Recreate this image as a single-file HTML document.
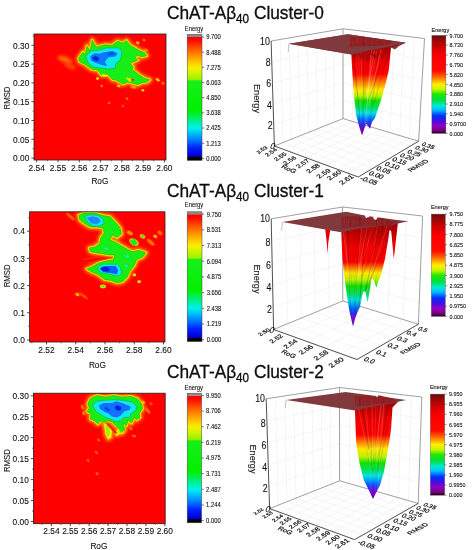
<!DOCTYPE html>
<html lang="en"><head><meta charset="utf-8"><title>ChAT-Aβ40 free energy landscapes</title>
<style>html,body{margin:0;padding:0;background:#fff}body{width:473px;height:550px;overflow:hidden}svg{display:block}text{font-family:"Liberation Sans", sans-serif;fill:#111;stroke:#111;stroke-width:0.1px}</style>
</head><body>
<svg width="473" height="550" viewBox="0 0 473 550">
<defs>
<filter id="b1" x="-20%" y="-20%" width="140%" height="140%"><feGaussianBlur stdDeviation="0.7"/></filter>
<filter id="b2" x="-30%" y="-30%" width="160%" height="160%"><feGaussianBlur stdDeviation="1.4"/></filter>
<filter id="b3" x="-10%" y="-10%" width="120%" height="120%"><feGaussianBlur stdDeviation="0.4"/></filter>
<linearGradient id="cb1" x1="0" y1="0" x2="0" y2="1"><stop offset="0" stop-color="#ff0000"/><stop offset="0.03" stop-color="#ff0800"/><stop offset="0.075" stop-color="#ff4000"/><stop offset="0.15" stop-color="#ff9000"/><stop offset="0.205" stop-color="#ffc800"/><stop offset="0.25" stop-color="#f8f000"/><stop offset="0.3" stop-color="#c4f400"/><stop offset="0.345" stop-color="#98f000"/><stop offset="0.356" stop-color="#18f018"/><stop offset="0.6" stop-color="#00f000"/><stop offset="0.67" stop-color="#00f080"/><stop offset="0.74" stop-color="#00f0f0"/><stop offset="0.82" stop-color="#0090ff"/><stop offset="0.9" stop-color="#0020ff"/><stop offset="0.965" stop-color="#0000d0"/><stop offset="0.978" stop-color="#000000"/><stop offset="1" stop-color="#000000"/></linearGradient>
<linearGradient id="cb2" x1="0" y1="0" x2="0" y2="1"><stop offset="0" stop-color="#6e0a0a"/><stop offset="0.06" stop-color="#a00808"/><stop offset="0.14" stop-color="#dc0000"/><stop offset="0.22" stop-color="#ff0000"/><stop offset="0.36" stop-color="#ff0a00"/><stop offset="0.42" stop-color="#ff6000"/><stop offset="0.5" stop-color="#fff000"/><stop offset="0.55" stop-color="#c8f400"/><stop offset="0.6" stop-color="#20e800"/><stop offset="0.66" stop-color="#00e040"/><stop offset="0.72" stop-color="#00e8d8"/><stop offset="0.76" stop-color="#00c0ff"/><stop offset="0.82" stop-color="#0030ff"/><stop offset="0.87" stop-color="#4010e0"/><stop offset="0.92" stop-color="#9000c8"/><stop offset="0.97" stop-color="#780078"/><stop offset="1" stop-color="#200020"/></linearGradient>
</defs>
<rect width="473" height="550" fill="#ffffff"/>
<text x="167.0" y="19.4" font-size="18.6" textLength="157.0" lengthAdjust="spacingAndGlyphs" fill="#000" style="stroke:#000;stroke-width:0.3px">ChAT-Aβ<tspan font-size="12.6" dy="3.6">40</tspan><tspan dy="-3.6"> Cluster-0</tspan></text>
<rect x="34.0" y="34.0" width="132.0" height="126.0" fill="#ff0000"/>
<clipPath id="c1"><rect x="34.0" y="34.0" width="132.0" height="126.0"/></clipPath>
<g clip-path="url(#c1)">
<polygon points="78.5,58.5 82.7,52.2 85.2,54.3 86.9,45.9 90.1,51.1 92.2,40.1 96.4,46.9 104.9,44.8 112.0,45.2 117.6,41.1 122.7,43.0 126.5,40.4 130.3,45.5 135.4,48.0 138.5,50.0 144.3,52.5 146.8,55.7 141.7,56.9 137.3,55.0 135.4,57.6 137.9,60.1 134.7,61.4 130.3,63.3 133.5,67.1 132.2,69.6 136.0,72.2 139.8,75.3 144.3,77.9 150.0,79.8 146.8,82.3 141.7,82.9 137.9,84.8 132.8,83.6 127.8,82.3 122.7,84.2 118.9,81.7 115.1,79.8 112.3,79.7 108.0,74.4 101.7,75.5 97.5,70.2 91.1,69.1 85.9,64.9 79.5,61.7" fill="#ff7800" stroke="#ff7800" stroke-width="6" stroke-linejoin="round" filter="url(#b2)"/>
<polygon points="78.5,58.5 82.7,52.2 85.2,54.3 86.9,45.9 90.1,51.1 92.2,40.1 96.4,46.9 104.9,44.8 112.0,45.2 117.6,41.1 122.7,43.0 126.5,40.4 130.3,45.5 135.4,48.0 138.5,50.0 144.3,52.5 146.8,55.7 141.7,56.9 137.3,55.0 135.4,57.6 137.9,60.1 134.7,61.4 130.3,63.3 133.5,67.1 132.2,69.6 136.0,72.2 139.8,75.3 144.3,77.9 150.0,79.8 146.8,82.3 141.7,82.9 137.9,84.8 132.8,83.6 127.8,82.3 122.7,84.2 118.9,81.7 115.1,79.8 112.3,79.7 108.0,74.4 101.7,75.5 97.5,70.2 91.1,69.1 85.9,64.9 79.5,61.7" fill="#ffe000" stroke="#ffe000" stroke-width="2.6" stroke-linejoin="round" filter="url(#b1)"/>
<ellipse cx="137.7" cy="42.7" rx="1.9" ry="1.3" fill="#ffd000" transform="rotate(30 137.7 42.7)" filter="url(#b1)"/>
<ellipse cx="144.0" cy="40.1" rx="1.5" ry="1.1" fill="#ff9000" transform="rotate(30 144.0 40.1)" filter="url(#b1)"/>
<ellipse cx="157.7" cy="79.7" rx="2.5" ry="1.3" fill="#ffe000" transform="rotate(35 157.7 79.7)" filter="url(#b1)"/>
<ellipse cx="163.0" cy="83.3" rx="1.7" ry="1.1" fill="#ff9000" transform="rotate(35 163.0 83.3)" filter="url(#b1)"/>
<ellipse cx="142.9" cy="90.3" rx="1.5" ry="1.3" fill="#ffd000" transform="rotate(0 142.9 90.3)" filter="url(#b1)"/>
<ellipse cx="97.5" cy="78.6" rx="1.5" ry="1.3" fill="#ffe000" transform="rotate(0 97.5 78.6)" filter="url(#b1)"/>
<ellipse cx="101.7" cy="86.0" rx="1.5" ry="1.1" fill="#ff9000" transform="rotate(30 101.7 86.0)" filter="url(#b1)"/>
<ellipse cx="118.6" cy="86.0" rx="1.9" ry="1.3" fill="#ffd000" transform="rotate(20 118.6 86.0)" filter="url(#b1)"/>
<ellipse cx="109.1" cy="102.9" rx="1.3" ry="1.1" fill="#ff8000" transform="rotate(30 109.1 102.9)" filter="url(#b1)"/>
<ellipse cx="127.1" cy="98.7" rx="1.3" ry="1.1" fill="#ff9000" transform="rotate(30 127.1 98.7)" filter="url(#b1)"/>
<ellipse cx="122.9" cy="106.1" rx="1.3" ry="1.1" fill="#ff7000" transform="rotate(30 122.9 106.1)" filter="url(#b1)"/>
<ellipse cx="133.4" cy="87.1" rx="3.0" ry="1.7" fill="#ff9000" transform="rotate(10 133.4 87.1)" filter="url(#b1)"/>
<ellipse cx="146.1" cy="50.1" rx="2.1" ry="1.3" fill="#ff9000" transform="rotate(20 146.1 50.1)" filter="url(#b1)"/>
<ellipse cx="65.0" cy="59.5" rx="8.0" ry="3.0" fill="#ff6a00" transform="rotate(20 65.0 59.5)" filter="url(#b2)"/>
<ellipse cx="70.0" cy="66.0" rx="6.0" ry="2.5" fill="#ff5000" transform="rotate(25 70.0 66.0)" filter="url(#b2)"/>
<polygon points="78.5,58.5 82.7,52.2 85.2,54.3 86.9,45.9 90.1,51.1 92.2,40.1 96.4,46.9 104.9,44.8 112.0,45.2 117.6,41.1 122.7,43.0 126.5,40.4 130.3,45.5 135.4,48.0 138.5,50.0 144.3,52.5 146.8,55.7 141.7,56.9 137.3,55.0 135.4,57.6 137.9,60.1 134.7,61.4 130.3,63.3 133.5,67.1 132.2,69.6 136.0,72.2 139.8,75.3 144.3,77.9 150.0,79.8 146.8,82.3 141.7,82.9 137.9,84.8 132.8,83.6 127.8,82.3 122.7,84.2 118.9,81.7 115.1,79.8 112.3,79.7 108.0,74.4 101.7,75.5 97.5,70.2 91.1,69.1 85.9,64.9 79.5,61.7" fill="#18ee18" stroke="#0a7a0a" stroke-width="0.35" stroke-linejoin="round" filter="url(#b3)"/>
<polygon points="101.7,74.0 107.6,74.8 106.4,76.9 102.1,76.1" fill="#e8f000" filter="url(#b3)"/>
<polygon points="125.4,77.6 130.3,78.2 133.4,80.7 129.2,81.8" fill="#f0e000" filter="url(#b3)"/>
<ellipse cx="132.6" cy="79.9" rx="1.4" ry="1.1" fill="#ff2000" transform="rotate(0 132.6 79.9)" filter="url(#b3)"/>
<polygon points="85.9,56.4 91.1,51.1 98.5,50.1 107.0,48.0 118.6,48.0 121.8,51.1 120.7,59.6 115.5,63.8 115.5,68.1 108.1,69.1 101.7,68.1 93.3,67.0 88.0,62.8" fill="#10e8e8" stroke="#0a7a6a" stroke-width="0.35" stroke-linejoin="round" filter="url(#b3)"/>
<polygon points="90.1,56.4 94.3,53.3 99.6,53.7 103.8,52.2 112.3,51.1 117.6,53.3 115.5,56.4 108.1,57.5 104.9,61.7 107.0,65.9 101.7,64.9 95.4,62.8 91.1,60.7" fill="#1078ff" filter="url(#b1)"/>
<ellipse cx="95.8" cy="58.5" rx="3.2" ry="2.2" fill="#0020d0" transform="rotate(20 95.8 58.5)" filter="url(#b1)"/>
<ellipse cx="111.2" cy="53.7" rx="3.5" ry="1.6" fill="#0050f0" transform="rotate(-10 111.2 53.7)" filter="url(#b1)"/>
</g>
<rect x="34.0" y="34.0" width="132.0" height="126.0" fill="none" stroke="#222" stroke-width="0.8"/>
<line x1="31.4" y1="45.30" x2="34.0" y2="45.30" stroke="#222" stroke-width="0.8"/>
<text x="29.40" y="48.54" font-size="9.00" text-anchor="end" textLength="16.29" lengthAdjust="spacingAndGlyphs">0.30</text>
<line x1="31.4" y1="64.10" x2="34.0" y2="64.10" stroke="#222" stroke-width="0.8"/>
<text x="29.40" y="67.34" font-size="9.00" text-anchor="end" textLength="16.29" lengthAdjust="spacingAndGlyphs">0.25</text>
<line x1="31.4" y1="82.90" x2="34.0" y2="82.90" stroke="#222" stroke-width="0.8"/>
<text x="29.40" y="86.14" font-size="9.00" text-anchor="end" textLength="16.29" lengthAdjust="spacingAndGlyphs">0.20</text>
<line x1="31.4" y1="101.70" x2="34.0" y2="101.70" stroke="#222" stroke-width="0.8"/>
<text x="29.40" y="104.94" font-size="9.00" text-anchor="end" textLength="16.29" lengthAdjust="spacingAndGlyphs">0.15</text>
<line x1="31.4" y1="120.50" x2="34.0" y2="120.50" stroke="#222" stroke-width="0.8"/>
<text x="29.40" y="123.74" font-size="9.00" text-anchor="end" textLength="16.29" lengthAdjust="spacingAndGlyphs">0.10</text>
<line x1="31.4" y1="139.30" x2="34.0" y2="139.30" stroke="#222" stroke-width="0.8"/>
<text x="29.40" y="142.54" font-size="9.00" text-anchor="end" textLength="16.29" lengthAdjust="spacingAndGlyphs">0.05</text>
<line x1="31.4" y1="158.10" x2="34.0" y2="158.10" stroke="#222" stroke-width="0.8"/>
<text x="29.40" y="161.34" font-size="9.00" text-anchor="end" textLength="16.29" lengthAdjust="spacingAndGlyphs">0.00</text>
<line x1="32.6" y1="35.90" x2="34.0" y2="35.90" stroke="#222" stroke-width="0.6"/>
<line x1="32.6" y1="54.70" x2="34.0" y2="54.70" stroke="#222" stroke-width="0.6"/>
<line x1="32.6" y1="73.50" x2="34.0" y2="73.50" stroke="#222" stroke-width="0.6"/>
<line x1="32.6" y1="92.30" x2="34.0" y2="92.30" stroke="#222" stroke-width="0.6"/>
<line x1="32.6" y1="111.10" x2="34.0" y2="111.10" stroke="#222" stroke-width="0.6"/>
<line x1="32.6" y1="129.90" x2="34.0" y2="129.90" stroke="#222" stroke-width="0.6"/>
<line x1="32.6" y1="148.70" x2="34.0" y2="148.70" stroke="#222" stroke-width="0.6"/>
<line x1="36.70" y1="160.0" x2="36.70" y2="162.4" stroke="#222" stroke-width="0.8"/>
<text x="36.70" y="171.24" font-size="9.00" text-anchor="middle" textLength="16.29" lengthAdjust="spacingAndGlyphs">2.54</text>
<line x1="57.98" y1="160.0" x2="57.98" y2="162.4" stroke="#222" stroke-width="0.8"/>
<text x="57.98" y="171.24" font-size="9.00" text-anchor="middle" textLength="16.29" lengthAdjust="spacingAndGlyphs">2.55</text>
<line x1="79.26" y1="160.0" x2="79.26" y2="162.4" stroke="#222" stroke-width="0.8"/>
<text x="79.26" y="171.24" font-size="9.00" text-anchor="middle" textLength="16.29" lengthAdjust="spacingAndGlyphs">2.56</text>
<line x1="100.54" y1="160.0" x2="100.54" y2="162.4" stroke="#222" stroke-width="0.8"/>
<text x="100.54" y="171.24" font-size="9.00" text-anchor="middle" textLength="16.29" lengthAdjust="spacingAndGlyphs">2.57</text>
<line x1="121.82" y1="160.0" x2="121.82" y2="162.4" stroke="#222" stroke-width="0.8"/>
<text x="121.82" y="171.24" font-size="9.00" text-anchor="middle" textLength="16.29" lengthAdjust="spacingAndGlyphs">2.58</text>
<line x1="143.10" y1="160.0" x2="143.10" y2="162.4" stroke="#222" stroke-width="0.8"/>
<text x="143.10" y="171.24" font-size="9.00" text-anchor="middle" textLength="16.29" lengthAdjust="spacingAndGlyphs">2.59</text>
<line x1="164.38" y1="160.0" x2="164.38" y2="162.4" stroke="#222" stroke-width="0.8"/>
<text x="164.38" y="171.24" font-size="9.00" text-anchor="middle" textLength="16.29" lengthAdjust="spacingAndGlyphs">2.60</text>
<line x1="47.34" y1="160.0" x2="47.34" y2="161.3" stroke="#222" stroke-width="0.6"/>
<line x1="68.62" y1="160.0" x2="68.62" y2="161.3" stroke="#222" stroke-width="0.6"/>
<line x1="89.90" y1="160.0" x2="89.90" y2="161.3" stroke="#222" stroke-width="0.6"/>
<line x1="111.18" y1="160.0" x2="111.18" y2="161.3" stroke="#222" stroke-width="0.6"/>
<line x1="132.46" y1="160.0" x2="132.46" y2="161.3" stroke="#222" stroke-width="0.6"/>
<line x1="153.74" y1="160.0" x2="153.74" y2="161.3" stroke="#222" stroke-width="0.6"/>
<text x="0" y="0" font-size="9.00" text-anchor="middle" transform="translate(10.30 98.00) rotate(-90.0)" textLength="22.92" lengthAdjust="spacingAndGlyphs">RMSD</text>
<text x="99.90" y="184.30" font-size="9.00" text-anchor="middle" textLength="17.02" lengthAdjust="spacingAndGlyphs">RoG</text>
<rect x="187.2" y="37.00" width="14.8" height="123.40" fill="url(#cb1)"/>
<rect x="187.2" y="34.30" width="14.8" height="2.70" fill="#8a8a8a"/>
<rect x="187.2" y="34.30" width="14.8" height="126.10" fill="none" stroke="#444" stroke-width="0.5"/>
<line x1="202.0" y1="37.00" x2="204.2" y2="37.00" stroke="#222" stroke-width="0.6"/>
<text x="206.20" y="39.35" font-size="6.50" text-anchor="start" textLength="14.64" lengthAdjust="spacingAndGlyphs">9.700</text>
<line x1="202.0" y1="52.17" x2="204.2" y2="52.17" stroke="#222" stroke-width="0.6"/>
<text x="206.20" y="54.52" font-size="6.50" text-anchor="start" textLength="14.64" lengthAdjust="spacingAndGlyphs">8.488</text>
<line x1="202.0" y1="67.34" x2="204.2" y2="67.34" stroke="#222" stroke-width="0.6"/>
<text x="206.20" y="69.69" font-size="6.50" text-anchor="start" textLength="14.64" lengthAdjust="spacingAndGlyphs">7.275</text>
<line x1="202.0" y1="82.51" x2="204.2" y2="82.51" stroke="#222" stroke-width="0.6"/>
<text x="206.20" y="84.86" font-size="6.50" text-anchor="start" textLength="14.64" lengthAdjust="spacingAndGlyphs">6.063</text>
<line x1="202.0" y1="97.68" x2="204.2" y2="97.68" stroke="#222" stroke-width="0.6"/>
<text x="206.20" y="100.03" font-size="6.50" text-anchor="start" textLength="14.64" lengthAdjust="spacingAndGlyphs">4.850</text>
<line x1="202.0" y1="112.85" x2="204.2" y2="112.85" stroke="#222" stroke-width="0.6"/>
<text x="206.20" y="115.20" font-size="6.50" text-anchor="start" textLength="14.64" lengthAdjust="spacingAndGlyphs">3.638</text>
<line x1="202.0" y1="128.02" x2="204.2" y2="128.02" stroke="#222" stroke-width="0.6"/>
<text x="206.20" y="130.37" font-size="6.50" text-anchor="start" textLength="14.64" lengthAdjust="spacingAndGlyphs">2.425</text>
<line x1="202.0" y1="143.19" x2="204.2" y2="143.19" stroke="#222" stroke-width="0.6"/>
<text x="206.20" y="145.54" font-size="6.50" text-anchor="start" textLength="14.64" lengthAdjust="spacingAndGlyphs">1.213</text>
<line x1="202.0" y1="158.36" x2="204.2" y2="158.36" stroke="#222" stroke-width="0.6"/>
<text x="206.20" y="160.71" font-size="6.50" text-anchor="start" textLength="14.64" lengthAdjust="spacingAndGlyphs">0.000</text>
<text x="194.00" y="30.80" font-size="6.40" text-anchor="middle" textLength="18.45" lengthAdjust="spacingAndGlyphs">Energy</text>
<polygon points="271.1,41.0 343.0,28.8 343.0,118.6 274.4,146.0" fill="#fff" stroke="none"/>
<polygon points="343.0,28.8 424.5,38.5 418.6,141.2 343.0,118.6" fill="#fff" stroke="none"/>
<polyline points="273.7,125.0 343.0,100.6 419.8,120.7" fill="none" stroke="#ebebeb" stroke-width="0.5"/>
<polyline points="273.1,104.0 343.0,82.7 421.0,100.1" fill="none" stroke="#ebebeb" stroke-width="0.5"/>
<polyline points="272.4,83.0 343.0,64.7 422.1,79.6" fill="none" stroke="#ebebeb" stroke-width="0.5"/>
<polyline points="271.8,62.0 343.0,46.8 423.3,59.0" fill="none" stroke="#ebebeb" stroke-width="0.5"/>
<polyline points="280.1,39.5 283.0,142.6 365.8,172.5" fill="none" stroke="#ebebeb" stroke-width="0.5"/>
<polyline points="289.1,38.0 291.5,139.2 373.4,168.1" fill="none" stroke="#ebebeb" stroke-width="0.5"/>
<polyline points="298.1,36.4 300.1,135.7 380.9,163.6" fill="none" stroke="#ebebeb" stroke-width="0.5"/>
<polyline points="307.1,34.9 308.7,132.3 388.5,159.1" fill="none" stroke="#ebebeb" stroke-width="0.5"/>
<polyline points="316.0,33.4 317.3,128.9 396.0,154.6" fill="none" stroke="#ebebeb" stroke-width="0.5"/>
<polyline points="325.0,31.9 325.9,125.4 403.5,150.1" fill="none" stroke="#ebebeb" stroke-width="0.5"/>
<polyline points="334.0,30.3 334.4,122.0 411.1,145.7" fill="none" stroke="#ebebeb" stroke-width="0.5"/>
<polyline points="353.2,30.0 352.4,121.4 284.9,149.9" fill="none" stroke="#ebebeb" stroke-width="0.5"/>
<polyline points="363.4,31.2 361.9,124.2 295.4,153.8" fill="none" stroke="#ebebeb" stroke-width="0.5"/>
<polyline points="373.6,32.4 371.4,127.1 305.9,157.6" fill="none" stroke="#ebebeb" stroke-width="0.5"/>
<polyline points="383.8,33.6 380.8,129.9 316.4,161.5" fill="none" stroke="#ebebeb" stroke-width="0.5"/>
<polyline points="393.9,34.9 390.2,132.7 326.8,165.4" fill="none" stroke="#ebebeb" stroke-width="0.5"/>
<polyline points="404.1,36.1 399.7,135.5 337.3,169.2" fill="none" stroke="#ebebeb" stroke-width="0.5"/>
<polyline points="414.3,37.3 409.2,138.4 347.8,173.1" fill="none" stroke="#ebebeb" stroke-width="0.5"/>
<polyline points="271.1,41.0 343.0,28.8 424.5,38.5" fill="none" stroke="#777" stroke-width="0.7"/>
<polyline points="274.4,146.0 343.0,118.6 418.6,141.2" fill="none" stroke="#777" stroke-width="0.7"/>
<line x1="343.0" y1="28.8" x2="343.0" y2="118.6" stroke="#777" stroke-width="0.7"/>
<line x1="424.5" y1="38.5" x2="418.6" y2="141.2" stroke="#777" stroke-width="0.7"/>
<line x1="271.1" y1="41.0" x2="274.4" y2="146.0" stroke="#222" stroke-width="0.8"/>
<polyline points="274.4,146.0 358.3,177.0 418.6,141.2" fill="none" stroke="#222" stroke-width="0.8"/>
<polygon points="288.8,43.8 351.5,54.4 391.0,47.5 395.0,49.5 399.0,46.0 406.0,42.7 348.0,34.3" fill="#803a3e"/>
<line x1="288.8" y1="43.8" x2="288.2" y2="52" stroke="#999" stroke-width="0.6"/>
<linearGradient id="f1" gradientUnits="userSpaceOnUse" x1="0" y1="49.0" x2="0" y2="136.0"><stop offset="0.000" stop-color="#b00000"/><stop offset="0.161" stop-color="#f00000"/><stop offset="0.287" stop-color="#ff0000"/><stop offset="0.368" stop-color="#ff6a00"/><stop offset="0.471" stop-color="#ffe800"/><stop offset="0.540" stop-color="#b8f000"/><stop offset="0.598" stop-color="#10e000"/><stop offset="0.678" stop-color="#00e060"/><stop offset="0.736" stop-color="#00e0e0"/><stop offset="0.805" stop-color="#0070ff"/><stop offset="0.862" stop-color="#3030f0"/><stop offset="0.920" stop-color="#8000d0"/><stop offset="1.000" stop-color="#600090"/></linearGradient>
<clipPath id="f1c"><polygon points="351.3,54.0 352.5,75.0 353.8,95.0 356.2,115.0 359.0,126.0 362.0,135.5 364.5,128.0 366.5,124.0 370.0,128.8 372.0,122.0 375.0,118.0 379.0,106.0 382.5,95.0 386.0,82.0 388.8,70.0 390.0,58.0 391.0,47.5 380.0,45.0 365.0,46.0"/></clipPath>
<polygon points="351.3,54.0 352.5,75.0 353.8,95.0 356.2,115.0 359.0,126.0 362.0,135.5 364.5,128.0 366.5,124.0 370.0,128.8 372.0,122.0 375.0,118.0 379.0,106.0 382.5,95.0 386.0,82.0 388.8,70.0 390.0,58.0 391.0,47.5 380.0,45.0 365.0,46.0" fill="url(#f1)" filter="url(#b3)"/>
<g clip-path="url(#f1c)" filter="url(#b3)">
<line x1="351.8" y1="45.0" x2="359.9" y2="114.9" stroke="#000" stroke-opacity="0.17" stroke-width="0.9"/>
<line x1="353.1" y1="45.0" x2="360.6" y2="128.1" stroke="#000" stroke-opacity="0.11" stroke-width="1.1"/>
<line x1="355.4" y1="45.0" x2="359.6" y2="111.8" stroke="#fff" stroke-opacity="0.10" stroke-width="0.9"/>
<line x1="358.5" y1="45.0" x2="361.0" y2="123.8" stroke="#fff" stroke-opacity="0.09" stroke-width="1.0"/>
<line x1="361.0" y1="45.0" x2="361.8" y2="91.7" stroke="#fff" stroke-opacity="0.16" stroke-width="0.9"/>
<line x1="364.1" y1="45.0" x2="362.7" y2="131.9" stroke="#000" stroke-opacity="0.21" stroke-width="0.8"/>
<line x1="367.4" y1="45.0" x2="364.0" y2="94.7" stroke="#000" stroke-opacity="0.11" stroke-width="1.1"/>
<line x1="369.5" y1="45.0" x2="364.3" y2="103.9" stroke="#000" stroke-opacity="0.14" stroke-width="0.7"/>
<line x1="372.0" y1="45.0" x2="365.0" y2="131.2" stroke="#fff" stroke-opacity="0.24" stroke-width="1.0"/>
<line x1="375.4" y1="45.0" x2="366.3" y2="97.6" stroke="#fff" stroke-opacity="0.24" stroke-width="1.0"/>
<line x1="377.9" y1="45.0" x2="367.2" y2="99.8" stroke="#fff" stroke-opacity="0.18" stroke-width="0.7"/>
<line x1="379.2" y1="45.0" x2="368.3" y2="135.0" stroke="#000" stroke-opacity="0.21" stroke-width="0.7"/>
<line x1="380.7" y1="45.0" x2="366.2" y2="125.0" stroke="#fff" stroke-opacity="0.08" stroke-width="0.9"/>
<line x1="382.0" y1="45.0" x2="368.6" y2="105.2" stroke="#fff" stroke-opacity="0.25" stroke-width="0.8"/>
<line x1="385.4" y1="45.0" x2="367.3" y2="93.7" stroke="#fff" stroke-opacity="0.08" stroke-width="0.6"/>
<line x1="387.5" y1="45.0" x2="369.7" y2="97.3" stroke="#000" stroke-opacity="0.22" stroke-width="0.7"/>
<line x1="390.8" y1="45.0" x2="372.8" y2="107.3" stroke="#000" stroke-opacity="0.16" stroke-width="0.9"/>
</g>
<polygon points="352.0,54.0 391.0,47.5 400.0,45.0 390.0,44.0 352.0,50.0 355.0,58.0 358.0,53.0 361.0,60.0 364.0,52.0 368.0,62.0 371.0,52.0 375.0,60.0 378.0,51.0 382.0,58.0 385.0,50.0 388.0,55.0" fill="#9a1010" filter="url(#b3)"/>
<polygon points="288.8,43.8 351.5,54.4 370.0,50.5 391.0,46.2 406.0,42.7 348.0,34.3" fill="#803a3e"/>
<clipPath id="h1"><polygon points="350.2,36.5 365.4,37.2 385.8,39.9 391.7,41.6 389.2,44.5 379.8,45.7 365.4,46.2 350.2,46.7"/></clipPath>
<polygon points="350.2,36.5 365.4,37.2 385.8,39.9 391.7,41.6 389.2,44.5 379.8,45.7 365.4,46.2 350.2,46.7" fill="#8c2028" filter="url(#b3)"/>
<g clip-path="url(#h1)">
<line x1="350.8" y1="37.0" x2="351.1" y2="46.0" stroke="#b81010" stroke-width="0.9" stroke-opacity="0.8"/>
<line x1="352.1" y1="40.2" x2="352.4" y2="44.7" stroke="#803a3e" stroke-width="0.7" stroke-opacity="0.8"/>
<line x1="354.2" y1="38.0" x2="354.5" y2="43.2" stroke="#b81010" stroke-width="0.9" stroke-opacity="0.8"/>
<line x1="356.4" y1="36.6" x2="356.7" y2="43.4" stroke="#c01818" stroke-width="0.8" stroke-opacity="0.8"/>
<line x1="357.4" y1="38.2" x2="357.7" y2="43.4" stroke="#803a3e" stroke-width="1.0" stroke-opacity="0.8"/>
<line x1="359.1" y1="40.3" x2="359.4" y2="43.5" stroke="#c01818" stroke-width="0.5" stroke-opacity="0.8"/>
<line x1="360.9" y1="37.8" x2="361.2" y2="43.6" stroke="#c01818" stroke-width="0.8" stroke-opacity="0.8"/>
<line x1="362.2" y1="37.4" x2="362.5" y2="45.1" stroke="#c01818" stroke-width="0.9" stroke-opacity="0.8"/>
<line x1="363.4" y1="37.0" x2="363.7" y2="45.1" stroke="#6a1a20" stroke-width="1.0" stroke-opacity="0.8"/>
<line x1="365.2" y1="38.1" x2="365.5" y2="42.5" stroke="#8a3a40" stroke-width="0.9" stroke-opacity="0.8"/>
<line x1="366.4" y1="40.0" x2="366.7" y2="47.0" stroke="#8a3a40" stroke-width="0.5" stroke-opacity="0.8"/>
<line x1="368.1" y1="39.9" x2="368.4" y2="44.4" stroke="#c01818" stroke-width="0.9" stroke-opacity="0.8"/>
<line x1="370.2" y1="38.2" x2="370.5" y2="45.3" stroke="#7a2a30" stroke-width="0.9" stroke-opacity="0.8"/>
<line x1="371.7" y1="40.5" x2="372.0" y2="43.8" stroke="#8a3a40" stroke-width="1.0" stroke-opacity="0.8"/>
<line x1="373.0" y1="37.4" x2="373.3" y2="42.2" stroke="#b81010" stroke-width="0.9" stroke-opacity="0.8"/>
<line x1="374.8" y1="38.3" x2="375.1" y2="42.1" stroke="#b81010" stroke-width="0.6" stroke-opacity="0.8"/>
<line x1="376.7" y1="38.9" x2="377.0" y2="45.8" stroke="#c01818" stroke-width="0.6" stroke-opacity="0.8"/>
<line x1="378.3" y1="41.2" x2="378.6" y2="45.2" stroke="#7a2a30" stroke-width="0.5" stroke-opacity="0.8"/>
<line x1="380.5" y1="41.5" x2="380.8" y2="47.3" stroke="#b81010" stroke-width="1.0" stroke-opacity="0.8"/>
<line x1="382.6" y1="36.7" x2="382.9" y2="42.5" stroke="#8a3a40" stroke-width="0.9" stroke-opacity="0.8"/>
<line x1="384.5" y1="39.3" x2="384.8" y2="47.8" stroke="#c01818" stroke-width="0.9" stroke-opacity="0.8"/>
<line x1="386.5" y1="37.1" x2="386.8" y2="41.7" stroke="#c01818" stroke-width="0.5" stroke-opacity="0.8"/>
<line x1="388.4" y1="41.2" x2="388.7" y2="49.8" stroke="#b81010" stroke-width="0.9" stroke-opacity="0.8"/>
<line x1="390.1" y1="39.0" x2="390.4" y2="42.8" stroke="#7a2a30" stroke-width="0.8" stroke-opacity="0.8"/>
<line x1="391.3" y1="39.2" x2="391.6" y2="44.8" stroke="#7a2a30" stroke-width="1.0" stroke-opacity="0.8"/>
</g>
<text x="0" y="0" font-size="8.60" text-anchor="end" transform="translate(274.19 149.00) skewX(-18.0)" >0</text>
<text x="272.57" y="129.30" font-size="10.00" text-anchor="end" textLength="4.9" lengthAdjust="spacingAndGlyphs">2</text>
<text x="271.91" y="108.50" font-size="10.00" text-anchor="end" textLength="4.9" lengthAdjust="spacingAndGlyphs">4</text>
<text x="271.25" y="87.30" font-size="10.00" text-anchor="end" textLength="4.9" lengthAdjust="spacingAndGlyphs">6</text>
<text x="270.58" y="66.00" font-size="10.00" text-anchor="end" textLength="4.9" lengthAdjust="spacingAndGlyphs">8</text>
<text x="269.91" y="44.70" font-size="10.00" text-anchor="end" textLength="9.8" lengthAdjust="spacingAndGlyphs">10</text>
<text x="0" y="0" font-size="9.20" text-anchor="middle" transform="translate(253.60 98.50) rotate(90.0)" >Energy</text>
<text transform="matrix(0.842 -0.540 0.701 0.564 263.21 150.94)" font-size="5.60" text-anchor="middle" fill="#111" style="stroke:#111;stroke-width:0.24px">2.53</text>
<text transform="matrix(0.842 -0.540 0.701 0.564 272.47 153.46)" font-size="6.20" text-anchor="middle" fill="#111" style="stroke:#111;stroke-width:0.24px">2.54</text>
<text transform="matrix(0.842 -0.540 0.701 0.564 281.84 157.92)" font-size="6.50" text-anchor="middle" fill="#111" style="stroke:#111;stroke-width:0.24px">2.55</text>
<text transform="matrix(0.842 -0.540 0.701 0.564 291.42 161.68)" font-size="6.80" text-anchor="middle" fill="#111" style="stroke:#111;stroke-width:0.24px">2.56</text>
<text transform="matrix(0.842 -0.540 0.701 0.564 304.37 164.92)" font-size="7.00" text-anchor="middle" fill="#111" style="stroke:#111;stroke-width:0.24px">2.57</text>
<text transform="matrix(0.842 -0.540 0.701 0.564 314.82 169.76)" font-size="7.20" text-anchor="middle" fill="#111" style="stroke:#111;stroke-width:0.24px">2.58</text>
<text transform="matrix(0.842 -0.540 0.701 0.564 325.34 174.88)" font-size="7.30" text-anchor="middle" fill="#111" style="stroke:#111;stroke-width:0.24px">2.59</text>
<text transform="matrix(0.842 -0.540 0.701 0.564 335.87 176.70)" font-size="7.40" text-anchor="middle" fill="#111" style="stroke:#111;stroke-width:0.24px">2.60</text>
<text transform="matrix(0.842 -0.540 0.701 0.564 348.09 181.12)" font-size="7.50" text-anchor="middle" fill="#111" style="stroke:#111;stroke-width:0.24px">2.61</text>
<text transform="matrix(0.950 0.314 -0.564 0.701 367.46 182.42)" font-size="7.60" text-anchor="middle" fill="#111" style="stroke:#111;stroke-width:0.24px">-0.05</text>
<text transform="matrix(0.950 0.314 -0.564 0.701 374.88 176.79)" font-size="7.50" text-anchor="middle" fill="#111" style="stroke:#111;stroke-width:0.24px">0.00</text>
<text transform="matrix(0.950 0.314 -0.564 0.701 382.30 171.87)" font-size="7.40" text-anchor="middle" fill="#111" style="stroke:#111;stroke-width:0.24px">0.05</text>
<text transform="matrix(0.950 0.314 -0.564 0.701 390.82 167.44)" font-size="7.30" text-anchor="middle" fill="#111" style="stroke:#111;stroke-width:0.24px">0.10</text>
<text transform="matrix(0.950 0.314 -0.564 0.701 398.24 162.82)" font-size="7.20" text-anchor="middle" fill="#111" style="stroke:#111;stroke-width:0.24px">0.15</text>
<text transform="matrix(0.950 0.314 -0.564 0.701 405.68 158.67)" font-size="7.00" text-anchor="middle" fill="#111" style="stroke:#111;stroke-width:0.24px">0.20</text>
<text transform="matrix(0.950 0.314 -0.564 0.701 413.12 154.72)" font-size="6.80" text-anchor="middle" fill="#111" style="stroke:#111;stroke-width:0.24px">0.25</text>
<text transform="matrix(0.950 0.314 -0.564 0.701 420.56 150.87)" font-size="6.60" text-anchor="middle" fill="#111" style="stroke:#111;stroke-width:0.24px">0.30</text>
<text transform="matrix(0.950 0.314 -0.564 0.701 426.90 147.32)" font-size="6.40" text-anchor="middle" fill="#111" style="stroke:#111;stroke-width:0.24px">0.35</text>
<text transform="matrix(0.912 0.411 -0.600 0.671 287.55 170.54)" font-size="7.20" text-anchor="middle" fill="#111" style="stroke:#111;stroke-width:0.24px">RoG</text>
<text transform="matrix(0.869 -0.495 0.780 0.450 420.05 166.68)" font-size="7.30" text-anchor="middle" fill="#111" style="stroke:#111;stroke-width:0.24px">RMSD</text>
<rect x="431.9" y="35.40" width="14.0" height="98.00" fill="url(#cb2)" stroke="#555" stroke-width="0.4"/>
<line x1="445.9" y1="35.40" x2="447.7" y2="35.40" stroke="#222" stroke-width="0.5"/>
<text x="449.50" y="37.50" font-size="6.00" text-anchor="start" textLength="13.51" lengthAdjust="spacingAndGlyphs">9.700</text>
<line x1="445.9" y1="45.20" x2="447.7" y2="45.20" stroke="#222" stroke-width="0.5"/>
<text x="449.50" y="47.30" font-size="6.00" text-anchor="start" textLength="13.51" lengthAdjust="spacingAndGlyphs">8.730</text>
<line x1="445.9" y1="55.00" x2="447.7" y2="55.00" stroke="#222" stroke-width="0.5"/>
<text x="449.50" y="57.10" font-size="6.00" text-anchor="start" textLength="13.51" lengthAdjust="spacingAndGlyphs">7.760</text>
<line x1="445.9" y1="64.80" x2="447.7" y2="64.80" stroke="#222" stroke-width="0.5"/>
<text x="449.50" y="66.90" font-size="6.00" text-anchor="start" textLength="13.51" lengthAdjust="spacingAndGlyphs">6.790</text>
<line x1="445.9" y1="74.60" x2="447.7" y2="74.60" stroke="#222" stroke-width="0.5"/>
<text x="449.50" y="76.70" font-size="6.00" text-anchor="start" textLength="13.51" lengthAdjust="spacingAndGlyphs">5.820</text>
<line x1="445.9" y1="84.40" x2="447.7" y2="84.40" stroke="#222" stroke-width="0.5"/>
<text x="449.50" y="86.50" font-size="6.00" text-anchor="start" textLength="13.51" lengthAdjust="spacingAndGlyphs">4.850</text>
<line x1="445.9" y1="94.20" x2="447.7" y2="94.20" stroke="#222" stroke-width="0.5"/>
<text x="449.50" y="96.30" font-size="6.00" text-anchor="start" textLength="13.51" lengthAdjust="spacingAndGlyphs">3.880</text>
<line x1="445.9" y1="104.00" x2="447.7" y2="104.00" stroke="#222" stroke-width="0.5"/>
<text x="449.50" y="106.10" font-size="6.00" text-anchor="start" textLength="13.51" lengthAdjust="spacingAndGlyphs">2.910</text>
<line x1="445.9" y1="113.80" x2="447.7" y2="113.80" stroke="#222" stroke-width="0.5"/>
<text x="449.50" y="115.90" font-size="6.00" text-anchor="start" textLength="13.51" lengthAdjust="spacingAndGlyphs">1.940</text>
<line x1="445.9" y1="123.60" x2="447.7" y2="123.60" stroke="#222" stroke-width="0.5"/>
<text x="449.50" y="125.70" font-size="6.00" text-anchor="start" textLength="16.51" lengthAdjust="spacingAndGlyphs">0.9700</text>
<line x1="445.9" y1="133.40" x2="447.7" y2="133.40" stroke="#222" stroke-width="0.5"/>
<text x="449.50" y="135.50" font-size="6.00" text-anchor="start" textLength="13.51" lengthAdjust="spacingAndGlyphs">0.000</text>
<text x="431.50" y="31.80" font-size="6.15" text-anchor="start" textLength="17.73" lengthAdjust="spacingAndGlyphs">Energy</text>
<text x="167.0" y="197.3" font-size="18.6" textLength="157.0" lengthAdjust="spacingAndGlyphs" fill="#000" style="stroke:#000;stroke-width:0.3px">ChAT-Aβ<tspan font-size="12.6" dy="3.6">40</tspan><tspan dy="-3.6"> Cluster-1</tspan></text>
<rect x="29.6" y="211.8" width="135.4" height="130.2" fill="#ff0000"/>
<clipPath id="c2"><rect x="29.6" y="211.8" width="135.4" height="130.2"/></clipPath>
<g clip-path="url(#c2)">
<polygon points="78.6,215.5 83.3,213.1 94.9,213.1 103.0,215.5 110.0,216.6 115.8,222.4 120.5,228.3 121.6,234.1 117.0,237.6 112.3,235.2 110.0,239.9 115.8,242.2 121.6,245.7 127.4,249.2 132.1,251.5 139.1,250.3 146.0,252.7 142.6,257.3 136.7,259.7 134.4,265.5 129.8,271.3 127.4,277.1 122.8,281.7 117.0,282.9 111.2,280.6 104.2,279.4 98.4,274.8 92.6,272.4 86.7,269.0 92.6,266.6 98.4,263.1 106.5,260.8 113.5,259.7 114.7,255.0 108.8,255.0 101.9,253.8 94.9,252.7 90.2,251.5 89.1,248.0 94.9,246.9 99.5,243.4 100.7,237.6 104.2,232.9 103.0,228.3 97.2,227.1 90.2,227.1 84.4,223.6 79.8,220.1" fill="#ff7800" stroke="#ff7800" stroke-width="6" stroke-linejoin="round" filter="url(#b2)"/>
<polygon points="78.6,215.5 83.3,213.1 94.9,213.1 103.0,215.5 110.0,216.6 115.8,222.4 120.5,228.3 121.6,234.1 117.0,237.6 112.3,235.2 110.0,239.9 115.8,242.2 121.6,245.7 127.4,249.2 132.1,251.5 139.1,250.3 146.0,252.7 142.6,257.3 136.7,259.7 134.4,265.5 129.8,271.3 127.4,277.1 122.8,281.7 117.0,282.9 111.2,280.6 104.2,279.4 98.4,274.8 92.6,272.4 86.7,269.0 92.6,266.6 98.4,263.1 106.5,260.8 113.5,259.7 114.7,255.0 108.8,255.0 101.9,253.8 94.9,252.7 90.2,251.5 89.1,248.0 94.9,246.9 99.5,243.4 100.7,237.6 104.2,232.9 103.0,228.3 97.2,227.1 90.2,227.1 84.4,223.6 79.8,220.1" fill="#ffe000" stroke="#ffe000" stroke-width="2.6" stroke-linejoin="round" filter="url(#b1)"/>
<ellipse cx="142.6" cy="236.4" rx="2.8" ry="1.9" fill="#ffd000" transform="rotate(30 142.6 236.4)" filter="url(#b1)"/>
<ellipse cx="155.3" cy="236.4" rx="2.1" ry="1.6" fill="#ffc000" transform="rotate(30 155.3 236.4)" filter="url(#b1)"/>
<ellipse cx="134.0" cy="242.2" rx="5.1" ry="3.3" fill="#ffd000" transform="rotate(30 134.0 242.2)" filter="url(#b1)"/>
<ellipse cx="139.1" cy="281.7" rx="1.9" ry="1.6" fill="#ffd000" transform="rotate(0 139.1 281.7)" filter="url(#b1)"/>
<ellipse cx="134.4" cy="274.8" rx="1.9" ry="1.6" fill="#ffd000" transform="rotate(0 134.4 274.8)" filter="url(#b1)"/>
<ellipse cx="77.4" cy="294.5" rx="2.1" ry="1.6" fill="#ffd000" transform="rotate(30 77.4 294.5)" filter="url(#b1)"/>
<ellipse cx="103.0" cy="286.4" rx="3.0" ry="1.9" fill="#ffe000" transform="rotate(0 103.0 286.4)" filter="url(#b1)"/>
<ellipse cx="70.5" cy="216.6" rx="5.8" ry="1.6" fill="#ff6000" transform="rotate(40 70.5 216.6)" filter="url(#b1)"/>
<ellipse cx="83.3" cy="295.7" rx="5.8" ry="1.4" fill="#ff5000" transform="rotate(35 83.3 295.7)" filter="url(#b1)"/>
<ellipse cx="150.7" cy="242.2" rx="4.7" ry="1.9" fill="#ff7000" transform="rotate(40 150.7 242.2)" filter="url(#b1)"/>
<ellipse cx="160.0" cy="232.9" rx="2.8" ry="1.9" fill="#ff7000" transform="rotate(40 160.0 232.9)" filter="url(#b1)"/>
<ellipse cx="129.8" cy="232.9" rx="3.3" ry="1.9" fill="#ff9000" transform="rotate(30 129.8 232.9)" filter="url(#b1)"/>
<polygon points="78.6,215.5 83.3,213.1 94.9,213.1 103.0,215.5 110.0,216.6 115.8,222.4 120.5,228.3 121.6,234.1 117.0,237.6 112.3,235.2 110.0,239.9 115.8,242.2 121.6,245.7 127.4,249.2 132.1,251.5 139.1,250.3 146.0,252.7 142.6,257.3 136.7,259.7 134.4,265.5 129.8,271.3 127.4,277.1 122.8,281.7 117.0,282.9 111.2,280.6 104.2,279.4 98.4,274.8 92.6,272.4 86.7,269.0 92.6,266.6 98.4,263.1 106.5,260.8 113.5,259.7 114.7,255.0 108.8,255.0 101.9,253.8 94.9,252.7 90.2,251.5 89.1,248.0 94.9,246.9 99.5,243.4 100.7,237.6 104.2,232.9 103.0,228.3 97.2,227.1 90.2,227.1 84.4,223.6 79.8,220.1" fill="#18ee18" stroke="#0a7a0a" stroke-width="0.35" stroke-linejoin="round" filter="url(#b3)"/>
<polygon points="82.1,259.0 100.7,256.2 114.0,257.6 101.9,260.3 89.1,264.1" fill="#ff3000" filter="url(#b1)"/>
<polygon points="82.1,259.9 98.4,257.6 107.7,258.3 98.4,259.9 87.9,262.7" fill="#ff0000" filter="url(#b3)"/>
<ellipse cx="142.6" cy="236.4" rx="1.6" ry="1.1" fill="#18ee18" transform="rotate(30 142.6 236.4)" filter="url(#b3)"/>
<polygon points="129.8,239.9 134.4,238.7 137.9,243.4 134.4,245.7 130.9,243.4" fill="#18ee18" filter="url(#b3)"/>
<ellipse cx="103.0" cy="286.4" rx="2.0" ry="1.2" fill="#60f010" transform="rotate(0 103.0 286.4)" filter="url(#b3)"/>
<polygon points="84.4,216.6 90.2,214.8 98.4,215.5 103.0,219.0 104.2,223.6 99.5,225.9 92.6,225.9 87.9,222.4" fill="#10e8e8" stroke="#0a7a6a" stroke-width="0.35" stroke-linejoin="round" filter="url(#b3)"/>
<polygon points="86.7,217.8 92.6,216.2 98.4,217.8 100.7,221.3 97.2,224.1 91.4,223.6" fill="#2088ff" filter="url(#b1)"/>
<polygon points="97.2,267.8 103.0,264.3 110.0,264.3 117.0,264.3 120.5,267.8 121.6,273.6 118.1,275.9 112.3,274.8 106.5,273.6 100.7,272.4" fill="#10e8e8" stroke="#0a7a6a" stroke-width="0.35" stroke-linejoin="round" filter="url(#b3)"/>
<polygon points="99.5,268.3 105.3,265.9 115.8,265.9 118.1,270.1 117.0,274.3 110.0,272.9 103.0,272.0" fill="#1060ff" filter="url(#b1)"/>
<ellipse cx="105.3" cy="269.2" rx="4.2" ry="2.2" fill="#0020d0" transform="rotate(10 105.3 269.2)" filter="url(#b1)"/>
<ellipse cx="106.5" cy="248.7" rx="1.8" ry="1.2" fill="#10e8e8" transform="rotate(20 106.5 248.7)" filter="url(#b3)"/>
<ellipse cx="127.4" cy="256.2" rx="1.8" ry="1.2" fill="#10e8e8" transform="rotate(20 127.4 256.2)" filter="url(#b3)"/>
<ellipse cx="126.3" cy="265.9" rx="1.8" ry="1.2" fill="#10e8e8" transform="rotate(20 126.3 265.9)" filter="url(#b3)"/>
</g>
<rect x="29.6" y="211.8" width="135.4" height="130.2" fill="none" stroke="#222" stroke-width="0.8"/>
<line x1="27.0" y1="231.20" x2="29.6" y2="231.20" stroke="#222" stroke-width="0.8"/>
<text x="25.00" y="234.44" font-size="9.00" text-anchor="end" textLength="11.63" lengthAdjust="spacingAndGlyphs">0.4</text>
<line x1="27.0" y1="258.40" x2="29.6" y2="258.40" stroke="#222" stroke-width="0.8"/>
<text x="25.00" y="261.64" font-size="9.00" text-anchor="end" textLength="11.63" lengthAdjust="spacingAndGlyphs">0.3</text>
<line x1="27.0" y1="285.60" x2="29.6" y2="285.60" stroke="#222" stroke-width="0.8"/>
<text x="25.00" y="288.84" font-size="9.00" text-anchor="end" textLength="11.63" lengthAdjust="spacingAndGlyphs">0.2</text>
<line x1="27.0" y1="312.80" x2="29.6" y2="312.80" stroke="#222" stroke-width="0.8"/>
<text x="25.00" y="316.04" font-size="9.00" text-anchor="end" textLength="11.63" lengthAdjust="spacingAndGlyphs">0.1</text>
<line x1="27.0" y1="340.00" x2="29.6" y2="340.00" stroke="#222" stroke-width="0.8"/>
<text x="25.00" y="343.24" font-size="9.00" text-anchor="end" textLength="11.63" lengthAdjust="spacingAndGlyphs">0.0</text>
<line x1="28.2" y1="217.60" x2="29.6" y2="217.60" stroke="#222" stroke-width="0.6"/>
<line x1="28.2" y1="244.80" x2="29.6" y2="244.80" stroke="#222" stroke-width="0.6"/>
<line x1="28.2" y1="272.00" x2="29.6" y2="272.00" stroke="#222" stroke-width="0.6"/>
<line x1="28.2" y1="299.20" x2="29.6" y2="299.20" stroke="#222" stroke-width="0.6"/>
<line x1="28.2" y1="326.40" x2="29.6" y2="326.40" stroke="#222" stroke-width="0.6"/>
<line x1="46.50" y1="342.0" x2="46.50" y2="344.4" stroke="#222" stroke-width="0.8"/>
<text x="46.50" y="353.24" font-size="9.00" text-anchor="middle" textLength="16.29" lengthAdjust="spacingAndGlyphs">2.52</text>
<line x1="75.75" y1="342.0" x2="75.75" y2="344.4" stroke="#222" stroke-width="0.8"/>
<text x="75.75" y="353.24" font-size="9.00" text-anchor="middle" textLength="16.29" lengthAdjust="spacingAndGlyphs">2.54</text>
<line x1="105.00" y1="342.0" x2="105.00" y2="344.4" stroke="#222" stroke-width="0.8"/>
<text x="105.00" y="353.24" font-size="9.00" text-anchor="middle" textLength="16.29" lengthAdjust="spacingAndGlyphs">2.56</text>
<line x1="134.25" y1="342.0" x2="134.25" y2="344.4" stroke="#222" stroke-width="0.8"/>
<text x="134.25" y="353.24" font-size="9.00" text-anchor="middle" textLength="16.29" lengthAdjust="spacingAndGlyphs">2.58</text>
<line x1="163.50" y1="342.0" x2="163.50" y2="344.4" stroke="#222" stroke-width="0.8"/>
<text x="163.50" y="353.24" font-size="9.00" text-anchor="middle" textLength="16.29" lengthAdjust="spacingAndGlyphs">2.60</text>
<line x1="31.90" y1="342.0" x2="31.90" y2="343.3" stroke="#222" stroke-width="0.6"/>
<line x1="61.15" y1="342.0" x2="61.15" y2="343.3" stroke="#222" stroke-width="0.6"/>
<line x1="90.40" y1="342.0" x2="90.40" y2="343.3" stroke="#222" stroke-width="0.6"/>
<line x1="119.65" y1="342.0" x2="119.65" y2="343.3" stroke="#222" stroke-width="0.6"/>
<line x1="148.90" y1="342.0" x2="148.90" y2="343.3" stroke="#222" stroke-width="0.6"/>
<text x="0" y="0" font-size="9.00" text-anchor="middle" transform="translate(10.30 275.80) rotate(-90.0)" textLength="22.92" lengthAdjust="spacingAndGlyphs">RMSD</text>
<text x="97.40" y="368.00" font-size="9.00" text-anchor="middle" textLength="17.02" lengthAdjust="spacingAndGlyphs">RoG</text>
<rect x="187.2" y="214.20" width="14.8" height="127.40" fill="url(#cb1)"/>
<rect x="187.2" y="211.80" width="14.8" height="2.40" fill="#8a8a8a"/>
<rect x="187.2" y="211.80" width="14.8" height="129.80" fill="none" stroke="#444" stroke-width="0.5"/>
<line x1="202.0" y1="214.20" x2="204.2" y2="214.20" stroke="#222" stroke-width="0.6"/>
<text x="206.70" y="216.55" font-size="6.50" text-anchor="start" textLength="14.64" lengthAdjust="spacingAndGlyphs">9.750</text>
<line x1="202.0" y1="229.89" x2="204.2" y2="229.89" stroke="#222" stroke-width="0.6"/>
<text x="206.70" y="232.24" font-size="6.50" text-anchor="start" textLength="14.64" lengthAdjust="spacingAndGlyphs">8.531</text>
<line x1="202.0" y1="245.58" x2="204.2" y2="245.58" stroke="#222" stroke-width="0.6"/>
<text x="206.70" y="247.93" font-size="6.50" text-anchor="start" textLength="14.64" lengthAdjust="spacingAndGlyphs">7.313</text>
<line x1="202.0" y1="261.27" x2="204.2" y2="261.27" stroke="#222" stroke-width="0.6"/>
<text x="206.70" y="263.62" font-size="6.50" text-anchor="start" textLength="14.64" lengthAdjust="spacingAndGlyphs">6.094</text>
<line x1="202.0" y1="276.96" x2="204.2" y2="276.96" stroke="#222" stroke-width="0.6"/>
<text x="206.70" y="279.31" font-size="6.50" text-anchor="start" textLength="14.64" lengthAdjust="spacingAndGlyphs">4.875</text>
<line x1="202.0" y1="292.65" x2="204.2" y2="292.65" stroke="#222" stroke-width="0.6"/>
<text x="206.70" y="295.00" font-size="6.50" text-anchor="start" textLength="14.64" lengthAdjust="spacingAndGlyphs">3.656</text>
<line x1="202.0" y1="308.34" x2="204.2" y2="308.34" stroke="#222" stroke-width="0.6"/>
<text x="206.70" y="310.69" font-size="6.50" text-anchor="start" textLength="14.64" lengthAdjust="spacingAndGlyphs">2.438</text>
<line x1="202.0" y1="324.03" x2="204.2" y2="324.03" stroke="#222" stroke-width="0.6"/>
<text x="206.70" y="326.38" font-size="6.50" text-anchor="start" textLength="14.64" lengthAdjust="spacingAndGlyphs">1.219</text>
<line x1="202.0" y1="339.72" x2="204.2" y2="339.72" stroke="#222" stroke-width="0.6"/>
<text x="206.70" y="342.07" font-size="6.50" text-anchor="start" textLength="14.64" lengthAdjust="spacingAndGlyphs">0.000</text>
<text x="194.00" y="207.20" font-size="6.40" text-anchor="middle" textLength="18.45" lengthAdjust="spacingAndGlyphs">Energy</text>
<polygon points="271.2,218.8 342.6,207.0 342.8,301.0 273.6,329.5" fill="#fff" stroke="none"/>
<polygon points="342.6,207.0 422.6,216.0 418.4,324.2 342.8,301.0" fill="#fff" stroke="none"/>
<polyline points="273.1,307.4 342.8,282.2 419.2,302.6" fill="none" stroke="#ebebeb" stroke-width="0.5"/>
<polyline points="272.6,285.2 342.7,263.4 420.1,280.9" fill="none" stroke="#ebebeb" stroke-width="0.5"/>
<polyline points="272.2,263.1 342.7,244.6 420.9,259.3" fill="none" stroke="#ebebeb" stroke-width="0.5"/>
<polyline points="271.7,240.9 342.6,225.8 421.8,237.6" fill="none" stroke="#ebebeb" stroke-width="0.5"/>
<polyline points="285.5,216.4 287.4,323.8 369.3,352.4" fill="none" stroke="#ebebeb" stroke-width="0.5"/>
<polyline points="299.8,214.1 301.3,318.1 381.6,345.4" fill="none" stroke="#ebebeb" stroke-width="0.5"/>
<polyline points="314.0,211.7 315.1,312.4 393.8,338.3" fill="none" stroke="#ebebeb" stroke-width="0.5"/>
<polyline points="328.3,209.4 329.0,306.7 406.1,331.3" fill="none" stroke="#ebebeb" stroke-width="0.5"/>
<polyline points="358.6,208.8 357.9,305.6 290.3,335.5" fill="none" stroke="#ebebeb" stroke-width="0.5"/>
<polyline points="374.6,210.6 373.0,310.3 307.0,341.5" fill="none" stroke="#ebebeb" stroke-width="0.5"/>
<polyline points="390.6,212.4 388.2,314.9 323.6,347.5" fill="none" stroke="#ebebeb" stroke-width="0.5"/>
<polyline points="406.6,214.2 403.3,319.6 340.3,353.5" fill="none" stroke="#ebebeb" stroke-width="0.5"/>
<polyline points="271.2,218.8 342.6,207.0 422.6,216.0" fill="none" stroke="#777" stroke-width="0.7"/>
<polyline points="273.6,329.5 342.8,301.0 418.4,324.2" fill="none" stroke="#777" stroke-width="0.7"/>
<line x1="342.6" y1="207.0" x2="342.8" y2="301.0" stroke="#777" stroke-width="0.7"/>
<line x1="422.6" y1="216.0" x2="418.4" y2="324.2" stroke="#777" stroke-width="0.7"/>
<line x1="271.2" y1="218.8" x2="273.6" y2="329.5" stroke="#222" stroke-width="0.8"/>
<polyline points="273.6,329.5 357.0,359.5 418.4,324.2" fill="none" stroke="#222" stroke-width="0.8"/>
<line x1="282.5" y1="222" x2="281.5" y2="231" stroke="#999" stroke-width="0.6"/>
<polygon points="325.2,229 330.3,229.8 328.2,243 327.6,254 326.8,243" fill="#e80000"/>
<linearGradient id="f2" gradientUnits="userSpaceOnUse" x1="0" y1="229.0" x2="0" y2="327.0"><stop offset="0.000" stop-color="#b00000"/><stop offset="0.173" stop-color="#f00000"/><stop offset="0.337" stop-color="#ff0000"/><stop offset="0.388" stop-color="#ff6a00"/><stop offset="0.449" stop-color="#ffe800"/><stop offset="0.520" stop-color="#b8f000"/><stop offset="0.582" stop-color="#10e000"/><stop offset="0.663" stop-color="#00e060"/><stop offset="0.724" stop-color="#00e0e0"/><stop offset="0.806" stop-color="#0070ff"/><stop offset="0.857" stop-color="#3030f0"/><stop offset="0.918" stop-color="#8000d0"/><stop offset="1.000" stop-color="#600090"/></linearGradient>
<clipPath id="f2c"><polygon points="341.3,231.0 341.8,245.0 342.5,258.7 344.0,273.0 345.7,287.0 347.3,298.0 349.0,308.9 351.0,318.0 353.0,326.5 355.0,319.0 357.5,312.0 360.0,306.7 361.6,299.0 363.2,291.4 365.4,291.4 367.6,302.5 369.8,290.0 372.0,278.0 374.0,280.5 376.3,287.5 378.5,281.0 380.7,276.0 383.0,267.0 385.0,258.7 386.8,248.0 388.3,239.0 389.5,230.0 391.2,231.0 392.5,245.0 393.8,259.0 395.4,245.0 397.2,229.0 398.0,222.0 380.0,220.0 360.0,222.0"/></clipPath>
<polygon points="341.3,231.0 341.8,245.0 342.5,258.7 344.0,273.0 345.7,287.0 347.3,298.0 349.0,308.9 351.0,318.0 353.0,326.5 355.0,319.0 357.5,312.0 360.0,306.7 361.6,299.0 363.2,291.4 365.4,291.4 367.6,302.5 369.8,290.0 372.0,278.0 374.0,280.5 376.3,287.5 378.5,281.0 380.7,276.0 383.0,267.0 385.0,258.7 386.8,248.0 388.3,239.0 389.5,230.0 391.2,231.0 392.5,245.0 393.8,259.0 395.4,245.0 397.2,229.0 398.0,222.0 380.0,220.0 360.0,222.0" fill="url(#f2)" filter="url(#b3)"/>
<g clip-path="url(#f2c)" filter="url(#b3)">
<line x1="341.8" y1="220.0" x2="350.4" y2="286.7" stroke="#fff" stroke-opacity="0.16" stroke-width="1.0"/>
<line x1="343.8" y1="220.0" x2="351.2" y2="301.7" stroke="#fff" stroke-opacity="0.10" stroke-width="1.0"/>
<line x1="347.0" y1="220.0" x2="350.9" y2="317.1" stroke="#000" stroke-opacity="0.18" stroke-width="1.0"/>
<line x1="348.3" y1="220.0" x2="352.0" y2="287.6" stroke="#000" stroke-opacity="0.14" stroke-width="0.8"/>
<line x1="351.2" y1="220.0" x2="352.7" y2="276.2" stroke="#000" stroke-opacity="0.09" stroke-width="0.5"/>
<line x1="354.6" y1="220.0" x2="353.6" y2="277.8" stroke="#000" stroke-opacity="0.13" stroke-width="0.7"/>
<line x1="356.5" y1="220.0" x2="354.1" y2="304.5" stroke="#000" stroke-opacity="0.10" stroke-width="0.7"/>
<line x1="358.0" y1="220.0" x2="354.4" y2="311.4" stroke="#000" stroke-opacity="0.09" stroke-width="0.6"/>
<line x1="360.0" y1="220.0" x2="355.1" y2="314.9" stroke="#000" stroke-opacity="0.21" stroke-width="0.9"/>
<line x1="362.2" y1="220.0" x2="355.2" y2="299.7" stroke="#fff" stroke-opacity="0.15" stroke-width="0.9"/>
<line x1="364.4" y1="220.0" x2="355.4" y2="301.8" stroke="#fff" stroke-opacity="0.09" stroke-width="0.8"/>
<line x1="366.5" y1="220.0" x2="358.0" y2="323.1" stroke="#000" stroke-opacity="0.22" stroke-width="1.0"/>
<line x1="368.3" y1="220.0" x2="357.1" y2="279.8" stroke="#fff" stroke-opacity="0.19" stroke-width="1.0"/>
<line x1="371.3" y1="220.0" x2="358.8" y2="312.3" stroke="#fff" stroke-opacity="0.09" stroke-width="0.9"/>
<line x1="372.5" y1="220.0" x2="356.6" y2="314.5" stroke="#000" stroke-opacity="0.09" stroke-width="0.6"/>
<line x1="375.6" y1="220.0" x2="357.4" y2="274.5" stroke="#fff" stroke-opacity="0.10" stroke-width="1.0"/>
<line x1="378.3" y1="220.0" x2="362.1" y2="324.0" stroke="#fff" stroke-opacity="0.21" stroke-width="0.5"/>
<line x1="381.2" y1="220.0" x2="360.8" y2="311.3" stroke="#000" stroke-opacity="0.20" stroke-width="1.1"/>
<line x1="382.5" y1="220.0" x2="359.8" y2="303.3" stroke="#fff" stroke-opacity="0.12" stroke-width="0.6"/>
<line x1="384.3" y1="220.0" x2="362.5" y2="313.4" stroke="#000" stroke-opacity="0.13" stroke-width="0.7"/>
<line x1="386.2" y1="220.0" x2="361.5" y2="277.7" stroke="#000" stroke-opacity="0.24" stroke-width="0.7"/>
<line x1="389.1" y1="220.0" x2="359.9" y2="310.0" stroke="#fff" stroke-opacity="0.19" stroke-width="0.8"/>
<line x1="391.3" y1="220.0" x2="364.9" y2="321.0" stroke="#000" stroke-opacity="0.09" stroke-width="0.9"/>
<line x1="394.5" y1="220.0" x2="364.6" y2="296.8" stroke="#fff" stroke-opacity="0.11" stroke-width="0.7"/>
<line x1="396.2" y1="220.0" x2="365.8" y2="290.0" stroke="#000" stroke-opacity="0.19" stroke-width="1.1"/>
</g>
<polygon points="282.5,222.0 341.0,232.2 360.0,228.5 380.0,226.0 392.0,225.5 398.0,223.5 408.3,221.2 395.0,219.8 377.5,217.3 375.2,222.5 373.0,216.8 369.5,216.3 367.3,222.0 365.0,215.6 346.0,211.8" fill="#803a3e"/>
<clipPath id="h2"><polygon points="341.4,216.7 358.5,216.2 365.2,219.0 368.0,217.1 375.7,220.0 379.5,218.1 396.6,221.3 394.7,224.7 385.2,225.7 374.7,225.7 358.5,226.6 341.4,228.5"/></clipPath>
<polygon points="341.4,216.7 358.5,216.2 365.2,219.0 368.0,217.1 375.7,220.0 379.5,218.1 396.6,221.3 394.7,224.7 385.2,225.7 374.7,225.7 358.5,226.6 341.4,228.5" fill="#8c2028" filter="url(#b3)"/>
<g clip-path="url(#h2)">
<line x1="342.0" y1="221.5" x2="342.3" y2="229.5" stroke="#803a3e" stroke-width="0.8" stroke-opacity="0.8"/>
<line x1="344.2" y1="218.1" x2="344.5" y2="223.8" stroke="#8a3a40" stroke-width="0.9" stroke-opacity="0.8"/>
<line x1="345.3" y1="218.4" x2="345.6" y2="224.5" stroke="#b81010" stroke-width="0.9" stroke-opacity="0.8"/>
<line x1="346.4" y1="219.1" x2="346.7" y2="227.3" stroke="#803a3e" stroke-width="0.7" stroke-opacity="0.8"/>
<line x1="348.4" y1="219.6" x2="348.7" y2="226.9" stroke="#803a3e" stroke-width="0.9" stroke-opacity="0.8"/>
<line x1="350.4" y1="221.0" x2="350.7" y2="231.2" stroke="#6a1a20" stroke-width="0.5" stroke-opacity="0.8"/>
<line x1="352.5" y1="220.2" x2="352.8" y2="229.6" stroke="#8a3a40" stroke-width="0.5" stroke-opacity="0.8"/>
<line x1="353.7" y1="217.7" x2="354.0" y2="222.8" stroke="#c01818" stroke-width="0.6" stroke-opacity="0.8"/>
<line x1="354.8" y1="220.4" x2="355.1" y2="224.3" stroke="#803a3e" stroke-width="1.0" stroke-opacity="0.8"/>
<line x1="356.0" y1="218.1" x2="356.3" y2="224.9" stroke="#7a2a30" stroke-width="0.9" stroke-opacity="0.8"/>
<line x1="357.0" y1="217.8" x2="357.3" y2="228.3" stroke="#7a2a30" stroke-width="0.5" stroke-opacity="0.8"/>
<line x1="358.5" y1="220.4" x2="358.8" y2="224.1" stroke="#803a3e" stroke-width="0.7" stroke-opacity="0.8"/>
<line x1="359.9" y1="216.7" x2="360.2" y2="225.1" stroke="#6a1a20" stroke-width="0.9" stroke-opacity="0.8"/>
<line x1="361.5" y1="219.5" x2="361.8" y2="224.1" stroke="#8a3a40" stroke-width="0.6" stroke-opacity="0.8"/>
<line x1="363.2" y1="218.9" x2="363.5" y2="226.5" stroke="#7a2a30" stroke-width="0.6" stroke-opacity="0.8"/>
<line x1="364.8" y1="218.5" x2="365.1" y2="227.9" stroke="#803a3e" stroke-width="0.9" stroke-opacity="0.8"/>
<line x1="366.1" y1="220.3" x2="366.4" y2="231.0" stroke="#803a3e" stroke-width="0.9" stroke-opacity="0.8"/>
<line x1="367.1" y1="220.3" x2="367.4" y2="228.0" stroke="#c01818" stroke-width="0.6" stroke-opacity="0.8"/>
<line x1="368.7" y1="216.6" x2="369.0" y2="222.4" stroke="#c01818" stroke-width="0.9" stroke-opacity="0.8"/>
<line x1="370.5" y1="220.2" x2="370.8" y2="228.5" stroke="#803a3e" stroke-width="0.6" stroke-opacity="0.8"/>
<line x1="372.6" y1="219.0" x2="372.9" y2="223.5" stroke="#803a3e" stroke-width="0.8" stroke-opacity="0.8"/>
<line x1="374.7" y1="220.6" x2="375.0" y2="228.7" stroke="#803a3e" stroke-width="0.8" stroke-opacity="0.8"/>
<line x1="376.4" y1="219.2" x2="376.7" y2="228.6" stroke="#6a1a20" stroke-width="0.9" stroke-opacity="0.8"/>
<line x1="377.5" y1="220.8" x2="377.8" y2="228.5" stroke="#8a3a40" stroke-width="0.9" stroke-opacity="0.8"/>
<line x1="378.8" y1="217.9" x2="379.1" y2="222.0" stroke="#c01818" stroke-width="0.6" stroke-opacity="0.8"/>
<line x1="380.4" y1="217.7" x2="380.7" y2="227.1" stroke="#c01818" stroke-width="0.7" stroke-opacity="0.8"/>
<line x1="381.7" y1="219.0" x2="382.0" y2="228.6" stroke="#6a1a20" stroke-width="0.5" stroke-opacity="0.8"/>
<line x1="383.2" y1="217.1" x2="383.5" y2="225.2" stroke="#7a2a30" stroke-width="0.8" stroke-opacity="0.8"/>
<line x1="384.9" y1="216.9" x2="385.2" y2="225.7" stroke="#803a3e" stroke-width="0.8" stroke-opacity="0.8"/>
<line x1="386.7" y1="221.2" x2="387.0" y2="230.4" stroke="#6a1a20" stroke-width="0.8" stroke-opacity="0.8"/>
<line x1="387.7" y1="221.1" x2="388.0" y2="228.8" stroke="#6a1a20" stroke-width="0.6" stroke-opacity="0.8"/>
<line x1="388.9" y1="218.5" x2="389.2" y2="224.3" stroke="#c01818" stroke-width="0.9" stroke-opacity="0.8"/>
<line x1="390.4" y1="222.0" x2="390.7" y2="228.6" stroke="#6a1a20" stroke-width="0.8" stroke-opacity="0.8"/>
<line x1="392.0" y1="219.3" x2="392.3" y2="226.9" stroke="#803a3e" stroke-width="0.9" stroke-opacity="0.8"/>
<line x1="394.1" y1="219.2" x2="394.4" y2="227.3" stroke="#803a3e" stroke-width="0.9" stroke-opacity="0.8"/>
<line x1="395.0" y1="217.6" x2="395.3" y2="222.6" stroke="#803a3e" stroke-width="0.8" stroke-opacity="0.8"/>
<line x1="396.1" y1="217.5" x2="396.4" y2="227.2" stroke="#b81010" stroke-width="1.0" stroke-opacity="0.8"/>
</g>
<text x="0" y="0" font-size="8.60" text-anchor="end" transform="translate(273.41 333.20) skewX(-18.0)" >0</text>
<text x="271.97" y="313.00" font-size="10.00" text-anchor="end" textLength="4.9" lengthAdjust="spacingAndGlyphs">2</text>
<text x="271.49" y="291.00" font-size="10.00" text-anchor="end" textLength="4.9" lengthAdjust="spacingAndGlyphs">4</text>
<text x="271.01" y="269.00" font-size="10.00" text-anchor="end" textLength="4.9" lengthAdjust="spacingAndGlyphs">6</text>
<text x="270.51" y="246.00" font-size="10.00" text-anchor="end" textLength="4.9" lengthAdjust="spacingAndGlyphs">8</text>
<text x="270.00" y="222.30" font-size="10.00" text-anchor="end" textLength="9.8" lengthAdjust="spacingAndGlyphs">10</text>
<text x="0" y="0" font-size="9.20" text-anchor="middle" transform="translate(253.60 279.00) rotate(90.0)" >Energy</text>
<text transform="matrix(0.849 -0.528 0.700 0.566 265.51 333.22)" font-size="6.00" text-anchor="middle" fill="#111" style="stroke:#111;stroke-width:0.24px">2.50</text>
<text transform="matrix(0.849 -0.528 0.700 0.566 277.71 339.98)" font-size="6.80" text-anchor="middle" fill="#111" style="stroke:#111;stroke-width:0.24px">2.52</text>
<text transform="matrix(0.849 -0.528 0.700 0.566 292.21 345.27)" font-size="7.20" text-anchor="middle" fill="#111" style="stroke:#111;stroke-width:0.24px">2.54</text>
<text transform="matrix(0.849 -0.528 0.700 0.566 307.56 351.01)" font-size="7.40" text-anchor="middle" fill="#111" style="stroke:#111;stroke-width:0.24px">2.56</text>
<text transform="matrix(0.849 -0.528 0.700 0.566 322.82 356.75)" font-size="7.60" text-anchor="middle" fill="#111" style="stroke:#111;stroke-width:0.24px">2.58</text>
<text transform="matrix(0.849 -0.528 0.700 0.566 337.97 363.89)" font-size="7.80" text-anchor="middle" fill="#111" style="stroke:#111;stroke-width:0.24px">2.60</text>
<text transform="matrix(0.952 0.305 -0.566 0.700 367.95 362.22)" font-size="7.60" text-anchor="middle" fill="#111" style="stroke:#111;stroke-width:0.24px">0.0</text>
<text transform="matrix(0.952 0.305 -0.566 0.700 380.09 355.16)" font-size="7.40" text-anchor="middle" fill="#111" style="stroke:#111;stroke-width:0.24px">0.1</text>
<text transform="matrix(0.952 0.305 -0.566 0.700 391.43 348.01)" font-size="7.20" text-anchor="middle" fill="#111" style="stroke:#111;stroke-width:0.24px">0.2</text>
<text transform="matrix(0.952 0.305 -0.566 0.700 400.97 341.16)" font-size="7.00" text-anchor="middle" fill="#111" style="stroke:#111;stroke-width:0.24px">0.3</text>
<text transform="matrix(0.952 0.305 -0.566 0.700 410.32 335.31)" font-size="6.80" text-anchor="middle" fill="#111" style="stroke:#111;stroke-width:0.24px">0.4</text>
<text transform="matrix(0.952 0.305 -0.566 0.700 421.66 331.06)" font-size="6.60" text-anchor="middle" fill="#111" style="stroke:#111;stroke-width:0.24px">0.5</text>
<text transform="matrix(0.915 0.403 -0.602 0.669 287.28 355.49)" font-size="7.00" text-anchor="middle" fill="#111" style="stroke:#111;stroke-width:0.24px">RoG</text>
<text transform="matrix(0.876 -0.483 0.781 0.447 412.40 349.54)" font-size="7.10" text-anchor="middle" fill="#111" style="stroke:#111;stroke-width:0.24px">RMSD</text>
<rect x="431.3" y="214.10" width="14.0" height="102.30" fill="url(#cb2)" stroke="#555" stroke-width="0.4"/>
<line x1="445.3" y1="214.10" x2="447.1" y2="214.10" stroke="#222" stroke-width="0.5"/>
<text x="449.50" y="216.20" font-size="6.00" text-anchor="start" textLength="13.51" lengthAdjust="spacingAndGlyphs">9.750</text>
<line x1="445.3" y1="224.33" x2="447.1" y2="224.33" stroke="#222" stroke-width="0.5"/>
<text x="449.50" y="226.43" font-size="6.00" text-anchor="start" textLength="13.51" lengthAdjust="spacingAndGlyphs">8.775</text>
<line x1="445.3" y1="234.56" x2="447.1" y2="234.56" stroke="#222" stroke-width="0.5"/>
<text x="449.50" y="236.66" font-size="6.00" text-anchor="start" textLength="13.51" lengthAdjust="spacingAndGlyphs">7.800</text>
<line x1="445.3" y1="244.79" x2="447.1" y2="244.79" stroke="#222" stroke-width="0.5"/>
<text x="449.50" y="246.89" font-size="6.00" text-anchor="start" textLength="13.51" lengthAdjust="spacingAndGlyphs">6.825</text>
<line x1="445.3" y1="255.02" x2="447.1" y2="255.02" stroke="#222" stroke-width="0.5"/>
<text x="449.50" y="257.12" font-size="6.00" text-anchor="start" textLength="13.51" lengthAdjust="spacingAndGlyphs">5.850</text>
<line x1="445.3" y1="265.25" x2="447.1" y2="265.25" stroke="#222" stroke-width="0.5"/>
<text x="449.50" y="267.35" font-size="6.00" text-anchor="start" textLength="13.51" lengthAdjust="spacingAndGlyphs">4.875</text>
<line x1="445.3" y1="275.48" x2="447.1" y2="275.48" stroke="#222" stroke-width="0.5"/>
<text x="449.50" y="277.58" font-size="6.00" text-anchor="start" textLength="13.51" lengthAdjust="spacingAndGlyphs">3.900</text>
<line x1="445.3" y1="285.71" x2="447.1" y2="285.71" stroke="#222" stroke-width="0.5"/>
<text x="449.50" y="287.81" font-size="6.00" text-anchor="start" textLength="13.51" lengthAdjust="spacingAndGlyphs">2.925</text>
<line x1="445.3" y1="295.94" x2="447.1" y2="295.94" stroke="#222" stroke-width="0.5"/>
<text x="449.50" y="298.04" font-size="6.00" text-anchor="start" textLength="13.51" lengthAdjust="spacingAndGlyphs">1.950</text>
<line x1="445.3" y1="306.17" x2="447.1" y2="306.17" stroke="#222" stroke-width="0.5"/>
<text x="449.50" y="308.27" font-size="6.00" text-anchor="start" textLength="16.51" lengthAdjust="spacingAndGlyphs">0.9750</text>
<line x1="445.3" y1="316.40" x2="447.1" y2="316.40" stroke="#222" stroke-width="0.5"/>
<text x="449.50" y="318.50" font-size="6.00" text-anchor="start" textLength="13.51" lengthAdjust="spacingAndGlyphs">0.000</text>
<text x="430.90" y="208.90" font-size="6.15" text-anchor="start" textLength="17.73" lengthAdjust="spacingAndGlyphs">Energy</text>
<text x="167.0" y="378.2" font-size="18.6" textLength="157.0" lengthAdjust="spacingAndGlyphs" fill="#000" style="stroke:#000;stroke-width:0.3px">ChAT-Aβ<tspan font-size="12.6" dy="3.6">40</tspan><tspan dy="-3.6"> Cluster-2</tspan></text>
<rect x="33.4" y="393.2" width="131.8" height="130.5" fill="#ff0000"/>
<clipPath id="c3"><rect x="33.4" y="393.2" width="131.8" height="130.5"/></clipPath>
<g clip-path="url(#c3)">
<polygon points="87.6,403.8 90.2,398.8 96.9,395.4 105.4,397.1 113.8,395.4 122.3,397.1 130.8,396.2 137.5,398.8 141.8,403.8 142.6,408.9 139.2,413.2 140.1,417.4 136.7,419.9 134.1,417.4 131.6,423.3 128.2,419.9 126.5,425.8 123.1,423.3 124.8,430.1 121.5,431.8 118.1,427.5 114.7,425.0 112.1,421.6 107.9,420.8 103.7,422.5 100.3,420.8 97.8,424.1 94.4,420.8 90.2,419.1 91.0,414.0 86.8,411.5 89.3,408.1" fill="#ff7800" stroke="#ff7800" stroke-width="6" stroke-linejoin="round" filter="url(#b2)"/>
<polygon points="87.6,403.8 90.2,398.8 96.9,395.4 105.4,397.1 113.8,395.4 122.3,397.1 130.8,396.2 137.5,398.8 141.8,403.8 142.6,408.9 139.2,413.2 140.1,417.4 136.7,419.9 134.1,417.4 131.6,423.3 128.2,419.9 126.5,425.8 123.1,423.3 124.8,430.1 121.5,431.8 118.1,427.5 114.7,425.0 112.1,421.6 107.9,420.8 103.7,422.5 100.3,420.8 97.8,424.1 94.4,420.8 90.2,419.1 91.0,414.0 86.8,411.5 89.3,408.1" fill="#ffe000" stroke="#ffe000" stroke-width="2.6" stroke-linejoin="round" filter="url(#b1)"/>
<polygon points="103.7,423.3 109.6,424.1 112.1,430.9 111.3,437.7 107.9,439.4 105.4,434.3 104.5,428.4" fill="#ff8800" stroke="#ff8800" stroke-width="4" stroke-linejoin="round" filter="url(#b2)"/>
<polygon points="103.7,423.3 109.6,424.1 112.1,430.9 111.3,437.7 107.9,439.4 105.4,434.3 104.5,428.4" fill="#e8f000" filter="url(#b1)"/>
<polygon points="118.1,428.4 124.3,429.6 123.7,433.5 119.8,434.3 116.4,436.3 114.7,433.5" fill="#ff8800" stroke="#ff8800" stroke-width="3" stroke-linejoin="round" filter="url(#b2)"/>
<polygon points="118.1,428.4 124.3,429.6 123.7,433.5 119.8,434.3 116.4,436.3 114.7,433.5" fill="#f0e800" filter="url(#b1)"/>
<ellipse cx="143.5" cy="402.2" rx="1.5" ry="1.2" fill="#ffd000" transform="rotate(30 143.5 402.2)" filter="url(#b1)"/>
<ellipse cx="147.7" cy="410.6" rx="3.7" ry="1.5" fill="#ff7000" transform="rotate(50 147.7 410.6)" filter="url(#b1)"/>
<ellipse cx="151.1" cy="403.8" rx="1.7" ry="1.2" fill="#ff6000" transform="rotate(40 151.1 403.8)" filter="url(#b1)"/>
<ellipse cx="82.5" cy="407.2" rx="1.5" ry="2.7" fill="#ff7000" transform="rotate(-20 82.5 407.2)" filter="url(#b1)"/>
<ellipse cx="83.7" cy="413.2" rx="1.4" ry="2.0" fill="#ff8000" transform="rotate(-20 83.7 413.2)" filter="url(#b1)"/>
<ellipse cx="130.8" cy="428.4" rx="2.0" ry="1.2" fill="#ff8000" transform="rotate(40 130.8 428.4)" filter="url(#b1)"/>
<ellipse cx="134.1" cy="436.0" rx="2.4" ry="1.2" fill="#ff6000" transform="rotate(20 134.1 436.0)" filter="url(#b1)"/>
<ellipse cx="96.3" cy="452.5" rx="1.7" ry="1.1" fill="#ff7a00" transform="rotate(40 96.3 452.5)" filter="url(#b1)"/>
<ellipse cx="88.0" cy="460.5" rx="1.7" ry="1.1" fill="#ff7a00" transform="rotate(40 88.0 460.5)" filter="url(#b1)"/>
<ellipse cx="97.0" cy="473.7" rx="1.7" ry="1.1" fill="#ff7a00" transform="rotate(40 97.0 473.7)" filter="url(#b1)"/>
<ellipse cx="98.5" cy="440.0" rx="1.7" ry="1.1" fill="#ff7a00" transform="rotate(40 98.5 440.0)" filter="url(#b1)"/>
<polygon points="87.6,403.8 90.2,398.8 96.9,395.4 105.4,397.1 113.8,395.4 122.3,397.1 130.8,396.2 137.5,398.8 141.8,403.8 142.6,408.9 139.2,413.2 140.1,417.4 136.7,419.9 134.1,417.4 131.6,423.3 128.2,419.9 126.5,425.8 123.1,423.3 124.8,430.1 121.5,431.8 118.1,427.5 114.7,425.0 112.1,421.6 107.9,420.8 103.7,422.5 100.3,420.8 97.8,424.1 94.4,420.8 90.2,419.1 91.0,414.0 86.8,411.5 89.3,408.1" fill="#18ee18" stroke="#0a7a0a" stroke-width="0.35" stroke-linejoin="round" filter="url(#b3)"/>
<polygon points="105.7,425.0 109.1,425.5 109.8,431.8 108.8,436.3 106.7,435.7 106.1,430.1" fill="#a0f010" filter="url(#b3)"/>
<polygon points="119.3,429.6 123.1,430.2 122.3,432.6 119.9,432.6" fill="#30e810" filter="url(#b3)"/>
<polygon points="105.4,423.0 109.1,423.5 117.6,433.3 114.9,433.6" fill="#ff2000" filter="url(#b3)"/>
<polygon points="92.7,405.5 96.1,401.3 103.7,400.5 113.8,399.6 124.0,400.5 132.5,402.2 136.7,406.4 135.8,410.6 130.8,414.0 129.1,417.4 124.0,417.4 120.6,420.8 115.5,421.6 110.5,419.1 105.4,417.4 100.3,414.0 96.1,411.5" fill="#10e8e8" stroke="#0a7a6a" stroke-width="0.35" stroke-linejoin="round" filter="url(#b3)"/>
<polygon points="98.6,405.5 103.7,403.0 112.1,403.0 116.4,401.3 124.0,403.8 130.8,406.4 129.9,409.8 124.0,411.5 120.6,415.7 116.4,417.4 112.1,416.5 107.9,413.2 103.7,411.5 100.3,408.9" fill="#1870ff" filter="url(#b1)"/>
<ellipse cx="118.1" cy="408.1" rx="3.2" ry="2.4" fill="#0020d0" transform="rotate(20 118.1 408.1)" filter="url(#b1)"/>
<ellipse cx="107.1" cy="408.9" rx="3.0" ry="1.5" fill="#0048f0" transform="rotate(35 107.1 408.9)" filter="url(#b1)"/>
</g>
<rect x="33.4" y="393.2" width="131.8" height="130.5" fill="none" stroke="#222" stroke-width="0.8"/>
<line x1="30.8" y1="395.80" x2="33.4" y2="395.80" stroke="#222" stroke-width="0.8"/>
<text x="28.80" y="399.04" font-size="9.00" text-anchor="end" textLength="16.29" lengthAdjust="spacingAndGlyphs">0.30</text>
<line x1="30.8" y1="416.75" x2="33.4" y2="416.75" stroke="#222" stroke-width="0.8"/>
<text x="28.80" y="419.99" font-size="9.00" text-anchor="end" textLength="16.29" lengthAdjust="spacingAndGlyphs">0.25</text>
<line x1="30.8" y1="437.70" x2="33.4" y2="437.70" stroke="#222" stroke-width="0.8"/>
<text x="28.80" y="440.94" font-size="9.00" text-anchor="end" textLength="16.29" lengthAdjust="spacingAndGlyphs">0.20</text>
<line x1="30.8" y1="458.65" x2="33.4" y2="458.65" stroke="#222" stroke-width="0.8"/>
<text x="28.80" y="461.89" font-size="9.00" text-anchor="end" textLength="16.29" lengthAdjust="spacingAndGlyphs">0.15</text>
<line x1="30.8" y1="479.60" x2="33.4" y2="479.60" stroke="#222" stroke-width="0.8"/>
<text x="28.80" y="482.84" font-size="9.00" text-anchor="end" textLength="16.29" lengthAdjust="spacingAndGlyphs">0.10</text>
<line x1="30.8" y1="500.55" x2="33.4" y2="500.55" stroke="#222" stroke-width="0.8"/>
<text x="28.80" y="503.79" font-size="9.00" text-anchor="end" textLength="16.29" lengthAdjust="spacingAndGlyphs">0.05</text>
<line x1="30.8" y1="521.50" x2="33.4" y2="521.50" stroke="#222" stroke-width="0.8"/>
<text x="28.80" y="524.74" font-size="9.00" text-anchor="end" textLength="16.29" lengthAdjust="spacingAndGlyphs">0.00</text>
<line x1="32.0" y1="406.30" x2="33.4" y2="406.30" stroke="#222" stroke-width="0.6"/>
<line x1="32.0" y1="427.25" x2="33.4" y2="427.25" stroke="#222" stroke-width="0.6"/>
<line x1="32.0" y1="448.20" x2="33.4" y2="448.20" stroke="#222" stroke-width="0.6"/>
<line x1="32.0" y1="469.15" x2="33.4" y2="469.15" stroke="#222" stroke-width="0.6"/>
<line x1="32.0" y1="490.10" x2="33.4" y2="490.10" stroke="#222" stroke-width="0.6"/>
<line x1="32.0" y1="511.05" x2="33.4" y2="511.05" stroke="#222" stroke-width="0.6"/>
<line x1="51.40" y1="523.7" x2="51.40" y2="526.1" stroke="#222" stroke-width="0.8"/>
<text x="51.40" y="534.04" font-size="9.00" text-anchor="middle" textLength="16.29" lengthAdjust="spacingAndGlyphs">2.54</text>
<line x1="70.30" y1="523.7" x2="70.30" y2="526.1" stroke="#222" stroke-width="0.8"/>
<text x="70.30" y="534.04" font-size="9.00" text-anchor="middle" textLength="16.29" lengthAdjust="spacingAndGlyphs">2.55</text>
<line x1="89.20" y1="523.7" x2="89.20" y2="526.1" stroke="#222" stroke-width="0.8"/>
<text x="89.20" y="534.04" font-size="9.00" text-anchor="middle" textLength="16.29" lengthAdjust="spacingAndGlyphs">2.56</text>
<line x1="108.10" y1="523.7" x2="108.10" y2="526.1" stroke="#222" stroke-width="0.8"/>
<text x="108.10" y="534.04" font-size="9.00" text-anchor="middle" textLength="16.29" lengthAdjust="spacingAndGlyphs">2.57</text>
<line x1="127.00" y1="523.7" x2="127.00" y2="526.1" stroke="#222" stroke-width="0.8"/>
<text x="127.00" y="534.04" font-size="9.00" text-anchor="middle" textLength="16.29" lengthAdjust="spacingAndGlyphs">2.58</text>
<line x1="145.90" y1="523.7" x2="145.90" y2="526.1" stroke="#222" stroke-width="0.8"/>
<text x="145.90" y="534.04" font-size="9.00" text-anchor="middle" textLength="16.29" lengthAdjust="spacingAndGlyphs">2.59</text>
<line x1="164.80" y1="523.7" x2="164.80" y2="526.1" stroke="#222" stroke-width="0.8"/>
<text x="164.80" y="534.04" font-size="9.00" text-anchor="middle" textLength="16.29" lengthAdjust="spacingAndGlyphs">2.60</text>
<line x1="41.95" y1="523.7" x2="41.95" y2="525.0" stroke="#222" stroke-width="0.6"/>
<line x1="60.85" y1="523.7" x2="60.85" y2="525.0" stroke="#222" stroke-width="0.6"/>
<line x1="79.75" y1="523.7" x2="79.75" y2="525.0" stroke="#222" stroke-width="0.6"/>
<line x1="98.65" y1="523.7" x2="98.65" y2="525.0" stroke="#222" stroke-width="0.6"/>
<line x1="117.55" y1="523.7" x2="117.55" y2="525.0" stroke="#222" stroke-width="0.6"/>
<line x1="136.45" y1="523.7" x2="136.45" y2="525.0" stroke="#222" stroke-width="0.6"/>
<line x1="155.35" y1="523.7" x2="155.35" y2="525.0" stroke="#222" stroke-width="0.6"/>
<text x="0" y="0" font-size="9.00" text-anchor="middle" transform="translate(9.70 460.60) rotate(-90.0)" textLength="22.92" lengthAdjust="spacingAndGlyphs">RMSD</text>
<text x="98.90" y="548.60" font-size="9.00" text-anchor="middle" textLength="17.02" lengthAdjust="spacingAndGlyphs">RoG</text>
<rect x="187.2" y="395.50" width="14.4" height="127.30" fill="url(#cb1)"/>
<rect x="187.2" y="393.20" width="14.4" height="2.30" fill="#8a8a8a"/>
<rect x="187.2" y="393.20" width="14.4" height="129.60" fill="none" stroke="#444" stroke-width="0.5"/>
<line x1="201.6" y1="395.50" x2="203.8" y2="395.50" stroke="#222" stroke-width="0.6"/>
<text x="206.10" y="397.85" font-size="6.50" text-anchor="start" textLength="14.64" lengthAdjust="spacingAndGlyphs">9.950</text>
<line x1="201.6" y1="411.14" x2="203.8" y2="411.14" stroke="#222" stroke-width="0.6"/>
<text x="206.10" y="413.49" font-size="6.50" text-anchor="start" textLength="14.64" lengthAdjust="spacingAndGlyphs">8.706</text>
<line x1="201.6" y1="426.78" x2="203.8" y2="426.78" stroke="#222" stroke-width="0.6"/>
<text x="206.10" y="429.13" font-size="6.50" text-anchor="start" textLength="14.64" lengthAdjust="spacingAndGlyphs">7.462</text>
<line x1="201.6" y1="442.42" x2="203.8" y2="442.42" stroke="#222" stroke-width="0.6"/>
<text x="206.10" y="444.77" font-size="6.50" text-anchor="start" textLength="14.64" lengthAdjust="spacingAndGlyphs">6.219</text>
<line x1="201.6" y1="458.06" x2="203.8" y2="458.06" stroke="#222" stroke-width="0.6"/>
<text x="206.10" y="460.41" font-size="6.50" text-anchor="start" textLength="14.64" lengthAdjust="spacingAndGlyphs">4.975</text>
<line x1="201.6" y1="473.70" x2="203.8" y2="473.70" stroke="#222" stroke-width="0.6"/>
<text x="206.10" y="476.05" font-size="6.50" text-anchor="start" textLength="14.64" lengthAdjust="spacingAndGlyphs">3.731</text>
<line x1="201.6" y1="489.34" x2="203.8" y2="489.34" stroke="#222" stroke-width="0.6"/>
<text x="206.10" y="491.69" font-size="6.50" text-anchor="start" textLength="14.64" lengthAdjust="spacingAndGlyphs">2.487</text>
<line x1="201.6" y1="504.98" x2="203.8" y2="504.98" stroke="#222" stroke-width="0.6"/>
<text x="206.10" y="507.33" font-size="6.50" text-anchor="start" textLength="14.64" lengthAdjust="spacingAndGlyphs">1.244</text>
<line x1="201.6" y1="520.62" x2="203.8" y2="520.62" stroke="#222" stroke-width="0.6"/>
<text x="206.10" y="522.97" font-size="6.50" text-anchor="start" textLength="14.64" lengthAdjust="spacingAndGlyphs">0.000</text>
<text x="193.80" y="389.90" font-size="6.40" text-anchor="middle" textLength="18.45" lengthAdjust="spacingAndGlyphs">Energy</text>
<polygon points="266.2,398.8 339.5,387.5 339.6,480.8 269.6,508.6" fill="#fff" stroke="none"/>
<polygon points="339.5,387.5 421.8,397.0 418.2,503.4 339.6,480.8" fill="#fff" stroke="none"/>
<polyline points="268.9,486.6 339.6,462.1 418.9,482.1" fill="none" stroke="#ebebeb" stroke-width="0.5"/>
<polyline points="268.2,464.7 339.6,443.5 419.6,460.8" fill="none" stroke="#ebebeb" stroke-width="0.5"/>
<polyline points="267.6,442.7 339.5,424.8 420.4,439.6" fill="none" stroke="#ebebeb" stroke-width="0.5"/>
<polyline points="266.9,420.8 339.5,406.2 421.1,418.3" fill="none" stroke="#ebebeb" stroke-width="0.5"/>
<polyline points="275.4,397.4 278.4,505.1 362.6,535.1" fill="none" stroke="#ebebeb" stroke-width="0.5"/>
<polyline points="284.5,396.0 287.1,501.7 370.5,530.5" fill="none" stroke="#ebebeb" stroke-width="0.5"/>
<polyline points="293.7,394.6 295.9,498.2 378.4,526.0" fill="none" stroke="#ebebeb" stroke-width="0.5"/>
<polyline points="302.9,393.1 304.6,494.7 386.4,521.5" fill="none" stroke="#ebebeb" stroke-width="0.5"/>
<polyline points="312.0,391.7 313.4,491.2 394.4,517.0" fill="none" stroke="#ebebeb" stroke-width="0.5"/>
<polyline points="321.2,390.3 322.1,487.8 402.3,512.5" fill="none" stroke="#ebebeb" stroke-width="0.5"/>
<polyline points="330.3,388.9 330.9,484.3 410.2,507.9" fill="none" stroke="#ebebeb" stroke-width="0.5"/>
<polyline points="349.8,388.7 349.4,483.6 280.2,512.5" fill="none" stroke="#ebebeb" stroke-width="0.5"/>
<polyline points="360.1,389.9 359.2,486.4 290.9,516.4" fill="none" stroke="#ebebeb" stroke-width="0.5"/>
<polyline points="370.4,391.1 369.1,489.3 301.5,520.2" fill="none" stroke="#ebebeb" stroke-width="0.5"/>
<polyline points="380.6,392.2 378.9,492.1 312.1,524.1" fill="none" stroke="#ebebeb" stroke-width="0.5"/>
<polyline points="390.9,393.4 388.7,494.9 322.7,528.0" fill="none" stroke="#ebebeb" stroke-width="0.5"/>
<polyline points="401.2,394.6 398.6,497.8 333.4,531.9" fill="none" stroke="#ebebeb" stroke-width="0.5"/>
<polyline points="411.5,395.8 408.4,500.6 344.0,535.7" fill="none" stroke="#ebebeb" stroke-width="0.5"/>
<polyline points="266.2,398.8 339.5,387.5 421.8,397.0" fill="none" stroke="#777" stroke-width="0.7"/>
<polyline points="269.6,508.6 339.6,480.8 418.2,503.4" fill="none" stroke="#777" stroke-width="0.7"/>
<line x1="339.5" y1="387.5" x2="339.6" y2="480.8" stroke="#777" stroke-width="0.7"/>
<line x1="421.8" y1="397.0" x2="418.2" y2="503.4" stroke="#777" stroke-width="0.7"/>
<line x1="266.2" y1="398.8" x2="269.6" y2="508.6" stroke="#222" stroke-width="0.8"/>
<polyline points="269.6,508.6 354.6,539.6 418.2,503.4" fill="none" stroke="#222" stroke-width="0.8"/>
<line x1="286.2" y1="400" x2="285.4" y2="408" stroke="#999" stroke-width="0.6"/>
<linearGradient id="f3" gradientUnits="userSpaceOnUse" x1="0" y1="404.0" x2="0" y2="499.0"><stop offset="0.000" stop-color="#b00000"/><stop offset="0.168" stop-color="#f00000"/><stop offset="0.326" stop-color="#ff0000"/><stop offset="0.389" stop-color="#ff6a00"/><stop offset="0.474" stop-color="#ffe800"/><stop offset="0.558" stop-color="#b8f000"/><stop offset="0.621" stop-color="#10e000"/><stop offset="0.695" stop-color="#00e060"/><stop offset="0.758" stop-color="#00e0e0"/><stop offset="0.832" stop-color="#0070ff"/><stop offset="0.874" stop-color="#3030f0"/><stop offset="0.926" stop-color="#8000d0"/><stop offset="1.000" stop-color="#600090"/></linearGradient>
<clipPath id="f3c"><polygon points="355.0,410.5 355.6,428.0 356.2,442.5 358.0,455.0 360.0,465.0 363.8,480.0 368.8,490.0 373.0,499.0 376.2,492.5 380.0,485.0 383.8,472.5 387.5,452.5 389.5,440.0 391.2,427.5 392.5,407.5 398.8,401.0 380.0,397.0 362.0,400.0"/></clipPath>
<polygon points="355.0,410.5 355.6,428.0 356.2,442.5 358.0,455.0 360.0,465.0 363.8,480.0 368.8,490.0 373.0,499.0 376.2,492.5 380.0,485.0 383.8,472.5 387.5,452.5 389.5,440.0 391.2,427.5 392.5,407.5 398.8,401.0 380.0,397.0 362.0,400.0" fill="url(#f3)" filter="url(#b3)"/>
<g clip-path="url(#f3c)" filter="url(#b3)">
<line x1="355.5" y1="397.0" x2="369.9" y2="462.4" stroke="#fff" stroke-opacity="0.10" stroke-width="0.8"/>
<line x1="356.9" y1="397.0" x2="366.9" y2="449.3" stroke="#fff" stroke-opacity="0.16" stroke-width="0.8"/>
<line x1="358.1" y1="397.0" x2="369.5" y2="464.7" stroke="#000" stroke-opacity="0.19" stroke-width="0.5"/>
<line x1="361.2" y1="397.0" x2="368.9" y2="449.7" stroke="#000" stroke-opacity="0.24" stroke-width="1.1"/>
<line x1="362.8" y1="397.0" x2="371.3" y2="458.2" stroke="#fff" stroke-opacity="0.11" stroke-width="0.7"/>
<line x1="365.8" y1="397.0" x2="371.2" y2="491.1" stroke="#fff" stroke-opacity="0.14" stroke-width="0.8"/>
<line x1="367.1" y1="397.0" x2="370.9" y2="458.6" stroke="#000" stroke-opacity="0.08" stroke-width="0.8"/>
<line x1="369.8" y1="397.0" x2="372.2" y2="471.2" stroke="#000" stroke-opacity="0.12" stroke-width="1.0"/>
<line x1="372.0" y1="397.0" x2="372.8" y2="468.5" stroke="#fff" stroke-opacity="0.22" stroke-width="0.7"/>
<line x1="374.0" y1="397.0" x2="373.4" y2="475.2" stroke="#000" stroke-opacity="0.08" stroke-width="0.9"/>
<line x1="376.3" y1="397.0" x2="374.0" y2="455.1" stroke="#fff" stroke-opacity="0.15" stroke-width="0.6"/>
<line x1="379.4" y1="397.0" x2="374.6" y2="464.2" stroke="#000" stroke-opacity="0.19" stroke-width="0.6"/>
<line x1="380.7" y1="397.0" x2="375.1" y2="494.4" stroke="#fff" stroke-opacity="0.12" stroke-width="0.7"/>
<line x1="382.3" y1="397.0" x2="375.2" y2="453.9" stroke="#fff" stroke-opacity="0.18" stroke-width="1.0"/>
<line x1="384.1" y1="397.0" x2="377.4" y2="496.0" stroke="#fff" stroke-opacity="0.24" stroke-width="0.8"/>
<line x1="386.6" y1="397.0" x2="375.1" y2="465.2" stroke="#fff" stroke-opacity="0.13" stroke-width="0.5"/>
<line x1="388.7" y1="397.0" x2="375.7" y2="479.5" stroke="#000" stroke-opacity="0.19" stroke-width="0.5"/>
<line x1="391.0" y1="397.0" x2="377.9" y2="457.6" stroke="#000" stroke-opacity="0.13" stroke-width="1.0"/>
<line x1="393.9" y1="397.0" x2="377.9" y2="472.4" stroke="#000" stroke-opacity="0.18" stroke-width="0.7"/>
<line x1="396.8" y1="397.0" x2="380.3" y2="468.1" stroke="#fff" stroke-opacity="0.11" stroke-width="0.7"/>
</g>
<polygon points="286.2,400.0 355.0,410.4 372.0,406.8 392.0,403.6 399.0,401.6 406.2,400.0 392.0,398.0 379.2,396.4 377.8,399.4 376.2,396.0 345.5,392.0" fill="#803a3e"/>
<clipPath id="h3"><polygon points="354.7,396.2 368.1,395.2 376.6,398.1 378.5,395.2 394.7,399.0 395.6,402.5 387.1,403.2 377.6,403.8 366.1,405.7 355.7,406.6"/></clipPath>
<polygon points="354.7,396.2 368.1,395.2 376.6,398.1 378.5,395.2 394.7,399.0 395.6,402.5 387.1,403.2 377.6,403.8 366.1,405.7 355.7,406.6" fill="#8c2028" filter="url(#b3)"/>
<g clip-path="url(#h3)">
<line x1="355.3" y1="397.1" x2="355.6" y2="405.2" stroke="#b81010" stroke-width="1.0" stroke-opacity="0.8"/>
<line x1="356.4" y1="400.1" x2="356.7" y2="406.2" stroke="#803a3e" stroke-width="1.0" stroke-opacity="0.8"/>
<line x1="357.8" y1="397.3" x2="358.1" y2="403.5" stroke="#8a3a40" stroke-width="0.6" stroke-opacity="0.8"/>
<line x1="359.7" y1="397.2" x2="360.0" y2="406.2" stroke="#6a1a20" stroke-width="0.8" stroke-opacity="0.8"/>
<line x1="361.6" y1="399.2" x2="361.9" y2="409.1" stroke="#803a3e" stroke-width="0.5" stroke-opacity="0.8"/>
<line x1="362.7" y1="399.9" x2="363.0" y2="403.9" stroke="#7a2a30" stroke-width="0.8" stroke-opacity="0.8"/>
<line x1="364.5" y1="396.6" x2="364.8" y2="405.7" stroke="#c01818" stroke-width="0.8" stroke-opacity="0.8"/>
<line x1="366.5" y1="397.8" x2="366.8" y2="407.3" stroke="#7a2a30" stroke-width="0.9" stroke-opacity="0.8"/>
<line x1="367.8" y1="395.2" x2="368.1" y2="400.0" stroke="#c01818" stroke-width="0.9" stroke-opacity="0.8"/>
<line x1="369.9" y1="398.4" x2="370.2" y2="402.6" stroke="#c01818" stroke-width="0.5" stroke-opacity="0.8"/>
<line x1="371.7" y1="399.1" x2="372.0" y2="409.2" stroke="#8a3a40" stroke-width="1.0" stroke-opacity="0.8"/>
<line x1="372.8" y1="395.8" x2="373.1" y2="401.2" stroke="#7a2a30" stroke-width="0.6" stroke-opacity="0.8"/>
<line x1="374.8" y1="397.6" x2="375.1" y2="406.4" stroke="#b81010" stroke-width="0.8" stroke-opacity="0.8"/>
<line x1="376.7" y1="399.7" x2="377.0" y2="406.3" stroke="#b81010" stroke-width="0.8" stroke-opacity="0.8"/>
<line x1="377.6" y1="398.6" x2="377.9" y2="407.9" stroke="#7a2a30" stroke-width="0.6" stroke-opacity="0.8"/>
<line x1="379.8" y1="395.7" x2="380.1" y2="402.3" stroke="#c01818" stroke-width="0.6" stroke-opacity="0.8"/>
<line x1="381.8" y1="395.8" x2="382.1" y2="402.6" stroke="#b81010" stroke-width="0.8" stroke-opacity="0.8"/>
<line x1="383.6" y1="398.6" x2="383.9" y2="405.1" stroke="#6a1a20" stroke-width="0.6" stroke-opacity="0.8"/>
<line x1="385.5" y1="397.7" x2="385.8" y2="403.7" stroke="#b81010" stroke-width="0.6" stroke-opacity="0.8"/>
<line x1="386.5" y1="399.3" x2="386.8" y2="403.3" stroke="#c01818" stroke-width="0.7" stroke-opacity="0.8"/>
<line x1="388.0" y1="400.5" x2="388.3" y2="408.6" stroke="#7a2a30" stroke-width="0.7" stroke-opacity="0.8"/>
<line x1="389.9" y1="398.7" x2="390.2" y2="403.5" stroke="#7a2a30" stroke-width="0.7" stroke-opacity="0.8"/>
<line x1="392.1" y1="396.5" x2="392.4" y2="403.0" stroke="#c01818" stroke-width="0.6" stroke-opacity="0.8"/>
<line x1="393.4" y1="400.5" x2="393.7" y2="408.9" stroke="#803a3e" stroke-width="0.9" stroke-opacity="0.8"/>
</g>
<text x="0" y="0" font-size="8.60" text-anchor="end" transform="translate(269.41 512.00) skewX(-18.0)" >0</text>
<text x="267.76" y="491.50" font-size="10.00" text-anchor="end" textLength="4.9" lengthAdjust="spacingAndGlyphs">2</text>
<text x="267.11" y="470.50" font-size="10.00" text-anchor="end" textLength="4.9" lengthAdjust="spacingAndGlyphs">4</text>
<text x="266.43" y="448.50" font-size="10.00" text-anchor="end" textLength="4.9" lengthAdjust="spacingAndGlyphs">6</text>
<text x="265.75" y="426.50" font-size="10.00" text-anchor="end" textLength="4.9" lengthAdjust="spacingAndGlyphs">8</text>
<text x="265.00" y="402.30" font-size="10.00" text-anchor="end" textLength="9.8" lengthAdjust="spacingAndGlyphs">10</text>
<text x="0" y="0" font-size="9.20" text-anchor="middle" transform="translate(249.60 459.00) rotate(90.0)" >Energy</text>
<text transform="matrix(0.851 -0.525 0.698 0.569 259.76 512.42)" font-size="5.00" text-anchor="middle" fill="#111" style="stroke:#111;stroke-width:0.24px">2.52</text>
<text transform="matrix(0.851 -0.525 0.698 0.569 268.86 515.81)" font-size="5.40" text-anchor="middle" fill="#111" style="stroke:#111;stroke-width:0.24px">2.53</text>
<text transform="matrix(0.851 -0.525 0.698 0.569 278.96 519.19)" font-size="5.80" text-anchor="middle" fill="#111" style="stroke:#111;stroke-width:0.24px">2.54</text>
<text transform="matrix(0.851 -0.525 0.698 0.569 287.06 522.07)" font-size="6.20" text-anchor="middle" fill="#111" style="stroke:#111;stroke-width:0.24px">2.55</text>
<text transform="matrix(0.851 -0.525 0.698 0.569 296.63 525.73)" font-size="6.50" text-anchor="middle" fill="#111" style="stroke:#111;stroke-width:0.24px">2.56</text>
<text transform="matrix(0.851 -0.525 0.698 0.569 305.23 529.11)" font-size="6.90" text-anchor="middle" fill="#111" style="stroke:#111;stroke-width:0.24px">2.57</text>
<text transform="matrix(0.851 -0.525 0.698 0.569 314.81 533.37)" font-size="7.20" text-anchor="middle" fill="#111" style="stroke:#111;stroke-width:0.24px">2.58</text>
<text transform="matrix(0.851 -0.525 0.698 0.569 324.83 537.19)" font-size="7.30" text-anchor="middle" fill="#111" style="stroke:#111;stroke-width:0.24px">2.59</text>
<text transform="matrix(0.851 -0.525 0.698 0.569 334.36 541.12)" font-size="7.40" text-anchor="middle" fill="#111" style="stroke:#111;stroke-width:0.24px">2.60</text>
<text transform="matrix(0.851 -0.525 0.698 0.569 343.88 544.94)" font-size="7.50" text-anchor="middle" fill="#111" style="stroke:#111;stroke-width:0.24px">2.61</text>
<text transform="matrix(0.951 0.310 -0.569 0.698 365.14 546.41)" font-size="7.60" text-anchor="middle" fill="#111" style="stroke:#111;stroke-width:0.24px">-0.05</text>
<text transform="matrix(0.951 0.310 -0.569 0.698 373.46 539.58)" font-size="7.50" text-anchor="middle" fill="#111" style="stroke:#111;stroke-width:0.24px">0.00</text>
<text transform="matrix(0.951 0.310 -0.569 0.698 382.08 533.86)" font-size="7.40" text-anchor="middle" fill="#111" style="stroke:#111;stroke-width:0.24px">0.05</text>
<text transform="matrix(0.951 0.310 -0.569 0.698 390.51 529.23)" font-size="7.30" text-anchor="middle" fill="#111" style="stroke:#111;stroke-width:0.24px">0.10</text>
<text transform="matrix(0.951 0.310 -0.569 0.698 399.03 523.81)" font-size="7.20" text-anchor="middle" fill="#111" style="stroke:#111;stroke-width:0.24px">0.15</text>
<text transform="matrix(0.951 0.310 -0.569 0.698 407.47 518.76)" font-size="7.00" text-anchor="middle" fill="#111" style="stroke:#111;stroke-width:0.24px">0.20</text>
<text transform="matrix(0.951 0.310 -0.569 0.698 414.51 515.11)" font-size="6.80" text-anchor="middle" fill="#111" style="stroke:#111;stroke-width:0.24px">0.25</text>
<text transform="matrix(0.951 0.310 -0.569 0.698 421.65 511.06)" font-size="6.60" text-anchor="middle" fill="#111" style="stroke:#111;stroke-width:0.24px">0.30</text>
<text transform="matrix(0.951 0.310 -0.569 0.698 428.69 507.61)" font-size="6.40" text-anchor="middle" fill="#111" style="stroke:#111;stroke-width:0.24px">0.35</text>
<text transform="matrix(0.913 0.407 -0.604 0.667 283.88 532.08)" font-size="7.00" text-anchor="middle" fill="#111" style="stroke:#111;stroke-width:0.24px">RoG</text>
<text transform="matrix(0.878 -0.479 0.779 0.450 419.65 529.98)" font-size="7.30" text-anchor="middle" fill="#111" style="stroke:#111;stroke-width:0.24px">RMSD</text>
<rect x="430.3" y="394.10" width="14.4" height="101.10" fill="url(#cb2)" stroke="#555" stroke-width="0.4"/>
<line x1="444.7" y1="394.10" x2="446.5" y2="394.10" stroke="#222" stroke-width="0.5"/>
<text x="449.00" y="396.20" font-size="6.00" text-anchor="start" textLength="13.51" lengthAdjust="spacingAndGlyphs">9.950</text>
<line x1="444.7" y1="404.21" x2="446.5" y2="404.21" stroke="#222" stroke-width="0.5"/>
<text x="449.00" y="406.31" font-size="6.00" text-anchor="start" textLength="13.51" lengthAdjust="spacingAndGlyphs">8.955</text>
<line x1="444.7" y1="414.32" x2="446.5" y2="414.32" stroke="#222" stroke-width="0.5"/>
<text x="449.00" y="416.42" font-size="6.00" text-anchor="start" textLength="13.51" lengthAdjust="spacingAndGlyphs">7.960</text>
<line x1="444.7" y1="424.43" x2="446.5" y2="424.43" stroke="#222" stroke-width="0.5"/>
<text x="449.00" y="426.53" font-size="6.00" text-anchor="start" textLength="13.51" lengthAdjust="spacingAndGlyphs">6.965</text>
<line x1="444.7" y1="434.54" x2="446.5" y2="434.54" stroke="#222" stroke-width="0.5"/>
<text x="449.00" y="436.64" font-size="6.00" text-anchor="start" textLength="13.51" lengthAdjust="spacingAndGlyphs">5.970</text>
<line x1="444.7" y1="444.65" x2="446.5" y2="444.65" stroke="#222" stroke-width="0.5"/>
<text x="449.00" y="446.75" font-size="6.00" text-anchor="start" textLength="13.51" lengthAdjust="spacingAndGlyphs">4.975</text>
<line x1="444.7" y1="454.76" x2="446.5" y2="454.76" stroke="#222" stroke-width="0.5"/>
<text x="449.00" y="456.86" font-size="6.00" text-anchor="start" textLength="13.51" lengthAdjust="spacingAndGlyphs">3.980</text>
<line x1="444.7" y1="464.87" x2="446.5" y2="464.87" stroke="#222" stroke-width="0.5"/>
<text x="449.00" y="466.97" font-size="6.00" text-anchor="start" textLength="13.51" lengthAdjust="spacingAndGlyphs">2.985</text>
<line x1="444.7" y1="474.98" x2="446.5" y2="474.98" stroke="#222" stroke-width="0.5"/>
<text x="449.00" y="477.08" font-size="6.00" text-anchor="start" textLength="13.51" lengthAdjust="spacingAndGlyphs">1.990</text>
<line x1="444.7" y1="485.09" x2="446.5" y2="485.09" stroke="#222" stroke-width="0.5"/>
<text x="449.00" y="487.19" font-size="6.00" text-anchor="start" textLength="16.51" lengthAdjust="spacingAndGlyphs">0.9950</text>
<line x1="444.7" y1="495.20" x2="446.5" y2="495.20" stroke="#222" stroke-width="0.5"/>
<text x="449.00" y="497.30" font-size="6.00" text-anchor="start" textLength="13.51" lengthAdjust="spacingAndGlyphs">0.000</text>
<text x="429.90" y="388.90" font-size="6.15" text-anchor="start" textLength="17.73" lengthAdjust="spacingAndGlyphs">Energy</text>
</svg>
</body></html>
